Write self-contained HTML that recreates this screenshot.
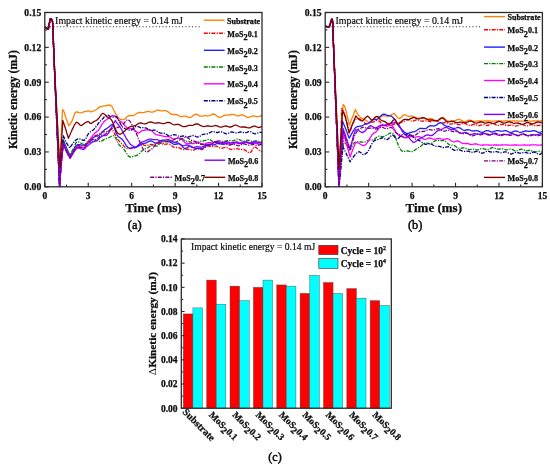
<!DOCTYPE html><html><head><meta charset="utf-8"><style>html,body{margin:0;padding:0;background:#fff;overflow:hidden}svg{display:block;filter:blur(0.3px)}text{font-family:"Liberation Serif", serif;stroke:#000;stroke-width:0.18px}text[font-weight=bold]{stroke:#000;stroke-width:0.25px}</style></head><body>
<svg width="550" height="468" viewBox="0 0 550 468">
<rect width="550" height="468" fill="#fff"/>
<defs><clipPath id="clipa"><rect x="44.8" y="12.5" width="217.2" height="174.3"/></clipPath><clipPath id="clipb"><rect x="325.2" y="12.5" width="217.2" height="174.3"/></clipPath></defs>
<g clip-path="url(#clipa)">
<path d="M44.8 27.1 45.8 27.7 47.3 28.6 48.3 29.2 48.5 28.2 48.7 27.1 48.9 26.1 49.1 25.0 49.3 23.9 49.5 22.8 49.7 21.7 49.9 20.7 50.1 19.6 50.3 18.6 50.9 18.8 51.6 19.2 52.3 20.6 52.5 21.7 52.6 22.9 52.7 23.9 52.8 25.0 52.9 26.1 52.9 27.1 53.0 28.2 53.0 29.2 53.1 30.3 53.1 31.3 53.1 32.4 53.2 33.4 53.2 34.5 53.2 35.6 53.2 36.6 53.3 37.7 53.3 38.7 53.3 39.8 53.3 40.8 53.4 41.9 53.4 42.9 53.4 44.0 53.5 45.0 53.5 46.0 53.5 47.0 53.6 48.0 53.6 49.0 53.7 50.0 53.7 51.0 53.8 52.0 53.8 53.0 53.8 54.0 53.9 55.0 53.9 56.0 54.0 57.0 54.0 58.0 54.1 59.0 54.1 60.0 54.2 61.0 54.2 62.1 54.3 63.1 54.3 64.1 54.4 65.1 54.4 66.2 54.5 67.2 54.5 68.2 54.6 69.2 54.6 70.3 54.7 71.3 54.7 72.3 54.8 73.3 54.8 74.4 54.9 75.4 55.0 76.4 55.0 77.4 55.1 78.5 55.1 79.5 55.2 80.5 55.2 81.5 55.3 82.6 55.3 83.6 55.4 84.6 55.4 85.6 55.5 86.7 55.5 87.7 55.6 88.7 55.6 89.7 55.7 90.8 55.8 91.8 55.8 92.8 55.9 93.8 55.9 94.8 56.0 95.9 56.0 96.9 56.1 97.9 56.1 98.9 56.2 99.9 56.2 100.9 56.3 101.9 56.4 102.9 56.4 104.0 56.5 105.0 56.5 106.0 56.6 107.0 56.6 108.0 56.7 109.0 56.7 110.0 56.8 111.0 56.8 112.1 56.9 113.1 57.0 114.1 57.0 115.1 57.1 116.1 57.1 117.1 57.2 118.1 57.2 119.1 57.3 120.2 57.3 121.2 57.4 122.2 57.4 123.2 57.5 124.2 57.5 125.2 57.6 126.2 57.7 127.2 57.7 128.3 57.8 129.3 57.8 130.3 57.9 131.3 57.9 132.3 58.0 133.3 58.0 134.3 58.1 135.3 58.1 136.4 58.2 137.4 58.3 138.4 58.3 139.4 58.4 140.4 58.4 141.5 58.5 142.5 58.5 143.5 58.6 144.5 58.6 145.6 58.7 146.6 58.8 147.6 58.8 148.6 58.9 149.6 58.9 150.7 59.0 151.7 59.0 152.7 59.1 153.7 59.1 154.7 59.2 155.8 59.2 156.8 59.3 157.8 59.4 158.8 59.4 159.9 59.5 160.9 59.5 161.9 59.6 162.9 59.6 163.9 59.7 165.0 59.7 166.0 59.8 167.0 59.8 165.9 59.9 164.9 59.9 163.8 60.0 162.8 60.0 161.7 60.1 160.7 60.1 159.6 60.2 158.6 60.2 157.5 60.3 156.4 60.4 155.4 60.4 154.3 60.5 153.3 60.5 152.2 60.6 151.2 60.6 150.1 60.6 149.1 60.7 148.1 60.7 147.1 60.8 146.1 60.8 145.1 60.9 144.1 60.9 143.0 61.0 142.0 61.0 141.0 61.1 140.0 61.1 139.0 61.2 138.0 61.2 137.0 61.3 136.0 61.3 135.0 61.4 134.0 61.4 132.9 61.5 131.9 61.5 130.9 61.6 129.9 61.6 128.9 61.7 127.9 61.7 126.9 61.7 125.8 61.8 124.8 61.8 123.7 61.9 122.7 61.9 121.6 62.0 120.6 62.0 119.5 62.1 118.4 62.1 117.4 62.2 116.3 62.2 115.3 62.3 114.2 62.3 113.2 62.4 112.1 62.5 111.1 62.5 110.0 62.8 110.0 63.2 110.0 63.7 110.8 64.0 111.8 64.4 112.7 64.8 114.0 65.2 115.3 65.6 116.7 66.0 118.0 66.3 118.9 66.7 119.9 67.0 120.8 67.4 121.8 67.7 122.8 68.1 123.8 68.4 124.8 68.8 125.8 69.7 124.6 70.3 123.7 70.9 122.8 71.6 121.7 72.2 120.6 72.6 119.6 72.9 118.6 73.3 117.7 73.6 116.6 74.0 115.5 74.3 114.4 75.0 113.2 75.6 112.1 77.1 111.8 78.9 112.6 80.8 112.9 81.9 112.5 83.1 112.1 84.3 111.7 85.6 111.5 86.6 111.3 87.6 110.9 88.8 110.9 89.7 111.5 90.6 111.8 91.9 111.5 93.3 111.1 94.8 110.5 96.5 109.5 98.3 108.1 100.0 106.9 101.6 106.3 103.1 106.1 104.5 105.9 105.7 105.8 106.8 105.5 108.0 105.3 109.3 105.0 110.6 105.2 112.0 106.6 112.8 108.2 113.6 109.7 114.2 111.0 114.8 112.1 115.4 113.2 115.9 114.1 116.5 114.9 117.0 115.7 117.6 116.5 118.1 117.3 119.1 118.5 120.5 119.4 121.6 119.6 122.7 119.8 124.1 119.3 125.4 118.3 126.7 117.1 128.0 116.1 129.2 115.6 130.4 115.5 131.5 115.7 132.7 115.7 133.8 115.5 135.0 114.8 136.1 114.0 137.3 113.2 138.4 112.7 139.6 112.5 140.7 112.5 141.9 112.7 143.2 112.7 144.4 112.4 145.7 111.9 147.0 111.5 148.2 111.4 149.4 111.6 150.4 111.9 151.4 112.1 153.2 112.0 155.0 111.1 156.7 110.2 158.4 110.1 160.0 110.6 161.3 110.9 162.4 110.9 164.0 110.7 165.1 110.7 166.2 110.8 167.1 111.1 168.0 111.7 168.9 112.4 170.2 113.4 171.5 114.3 172.7 114.5 173.9 114.5 175.2 114.4 176.4 114.5 177.7 115.1 179.0 115.7 180.0 116.3 180.9 116.6 181.9 116.6 182.9 116.4 184.0 116.2 185.0 116.2 186.4 116.4 187.9 117.1 189.2 117.4 190.5 117.5 191.7 116.8 193.0 115.7 194.2 114.8 195.4 114.2 196.6 114.3 197.8 114.8 199.1 115.6 200.3 116.1 201.6 116.2 202.9 116.1 204.4 115.7 205.8 115.7 206.8 115.8 207.9 115.8 208.9 115.7 209.9 115.5 210.9 115.0 211.9 114.3 213.3 114.0 214.8 114.3 215.7 115.0 216.6 115.8 217.6 116.6 218.6 117.2 219.5 117.4 220.5 117.4 221.5 116.8 222.6 116.2 223.6 115.7 224.7 115.3 225.7 115.2 226.8 115.2 227.9 115.2 228.9 115.1 230.0 114.8 231.1 114.5 232.1 114.3 233.2 114.3 234.3 114.6 235.3 115.1 236.4 115.6 237.5 115.9 238.6 115.8 239.7 115.5 240.8 115.2 241.9 114.9 243.0 115.0 244.2 115.5 245.3 116.2 246.4 117.0 247.6 117.3 248.8 117.3 250.0 116.9 251.1 116.4 252.2 116.1 253.2 116.0 254.3 116.2 255.4 116.4 256.6 116.6 257.7 116.6 258.8 116.4 259.9 116.1 260.9 116.0 262.0 116.0" fill="none" stroke="#FF8000" stroke-width="1.3" stroke-linejoin="round"/>
<path d="M44.8 27.1 45.8 27.7 47.3 28.6 48.3 29.2 48.5 28.2 48.7 27.1 48.9 26.1 49.1 25.0 49.3 23.9 49.5 22.8 49.7 21.7 49.9 20.7 50.1 19.6 50.3 18.6 50.9 18.8 51.6 19.2 52.3 20.6 52.5 21.7 52.6 22.9 52.7 23.9 52.8 25.0 52.9 26.1 52.9 27.1 53.0 28.2 53.0 29.2 53.1 30.3 53.1 31.3 53.1 32.5 53.2 33.6 53.2 34.8 53.3 35.9 53.3 37.0 53.3 38.1 53.3 39.2 53.4 40.3 53.4 41.4 53.4 42.5 53.5 43.5 53.5 44.6 53.5 45.6 53.6 46.6 53.6 47.6 53.7 48.7 53.7 49.7 53.7 50.7 53.8 51.8 53.8 52.8 53.9 53.8 53.9 54.9 53.9 55.9 54.0 56.9 54.0 57.9 54.1 59.0 54.1 60.0 54.1 61.0 54.2 62.0 54.2 63.1 54.3 64.1 54.3 65.1 54.4 66.1 54.4 67.1 54.4 68.1 54.5 69.2 54.5 70.2 54.6 71.2 54.6 72.2 54.7 73.2 54.7 74.2 54.8 75.3 54.8 76.3 54.8 77.3 54.9 78.3 54.9 79.3 55.0 80.4 55.0 81.4 55.1 82.4 55.1 83.4 55.1 84.4 55.2 85.4 55.2 86.5 55.3 87.5 55.3 88.5 55.4 89.5 55.4 90.5 55.5 91.6 55.5 92.6 55.5 93.6 55.6 94.6 55.6 95.6 55.7 96.6 55.7 97.7 55.8 98.7 55.8 99.7 55.8 100.7 55.9 101.7 55.9 102.7 56.0 103.7 56.0 104.8 56.1 105.8 56.1 106.8 56.2 107.8 56.2 108.8 56.2 109.8 56.3 110.8 56.3 111.8 56.4 112.9 56.4 113.9 56.5 114.9 56.5 115.9 56.6 116.9 56.6 117.9 56.6 118.9 56.7 119.9 56.7 120.9 56.8 122.0 56.8 123.0 56.9 124.0 56.9 125.0 56.9 126.0 57.0 127.0 57.0 128.0 57.1 129.0 57.1 130.1 57.2 131.1 57.2 132.1 57.3 133.1 57.3 134.1 57.3 135.1 57.4 136.1 57.4 137.1 57.5 138.1 57.5 139.2 57.6 140.2 57.6 141.2 57.7 142.2 57.7 143.2 57.7 144.2 57.8 145.2 57.8 146.2 57.9 147.3 57.9 148.3 58.0 149.3 58.0 150.3 58.1 151.3 58.1 152.3 58.1 153.3 58.2 154.3 58.2 155.4 58.3 156.4 58.3 157.4 58.4 158.4 58.4 159.4 58.4 160.4 58.5 161.4 58.5 162.5 58.6 163.5 58.6 164.5 58.7 165.5 58.7 166.5 58.8 167.5 58.8 168.5 58.8 169.6 58.9 170.6 58.9 171.6 59.0 172.6 59.0 173.6 59.1 174.6 59.1 175.6 59.2 176.7 59.2 177.7 59.2 178.7 59.3 179.7 59.3 180.7 59.4 181.7 59.4 182.7 59.5 183.8 59.5 184.8 59.6 185.8 59.6 186.8 59.7 185.7 59.7 184.6 59.8 183.4 59.9 182.3 59.9 181.2 60.0 180.2 60.1 179.2 60.1 178.2 60.2 177.2 60.2 176.2 60.3 175.2 60.4 174.2 60.4 173.2 60.5 172.1 60.6 171.1 60.6 170.1 60.7 169.1 60.8 168.1 60.9 167.0 60.9 166.0 61.0 165.0 61.1 163.9 61.2 162.9 61.3 161.8 61.4 160.8 61.5 159.7 61.6 158.7 61.7 157.6 61.8 156.6 61.9 155.5 62.0 154.4 62.1 153.4 62.2 152.3 62.3 151.2 62.4 150.1 62.6 149.1 62.7 148.0 62.8 147.0 62.9 146.0 63.0 145.0 63.1 144.0 63.2 143.0 63.3 142.0 63.7 143.1 64.1 144.1 64.5 145.1 64.9 146.1 65.3 147.1 65.7 148.1 66.1 149.0 66.5 150.0 67.2 151.3 67.8 152.7 68.5 153.9 69.2 155.2 69.6 156.1 70.1 157.0 70.6 156.0 71.1 155.1 71.6 154.2 72.1 153.3 72.6 152.4 73.3 151.2 74.0 150.0 74.5 149.1 75.0 148.1 76.0 146.5 77.4 145.5 78.5 145.6 79.5 145.7 80.8 146.1 82.0 146.4 83.1 146.2 84.2 146.1 84.9 145.3 85.5 144.7 86.0 143.7 86.5 142.7 87.2 141.9 88.0 141.0 88.8 140.4 89.7 139.7 90.5 138.8 91.5 137.8 92.5 137.0 93.5 136.3 94.5 135.8 95.5 135.5 96.5 135.3 97.5 134.9 98.5 134.3 99.5 133.6 100.4 132.9 101.4 132.3 102.4 131.8 103.8 131.7 105.1 131.8 106.2 131.8 107.4 131.4 108.3 130.9 109.3 130.2 111.0 129.4 112.3 129.9 113.4 131.4 113.9 132.5 114.5 133.6 115.2 134.9 115.8 136.2 116.6 137.6 117.3 138.8 118.0 139.9 118.8 140.8 119.6 141.6 120.4 142.3 121.2 143.1 122.1 144.1 123.0 145.0 123.9 146.1 124.8 147.0 125.8 147.9 126.7 148.4 127.7 148.8 128.9 148.7 130.0 148.7 131.4 148.3 132.8 148.4 133.8 148.2 134.8 148.0 135.8 147.4 136.8 146.7 137.9 145.8 138.9 144.8 139.9 144.3 140.9 144.1 142.0 144.2 143.0 144.7 144.0 145.2 145.0 145.5 146.5 145.6 147.9 145.1 149.1 144.7 150.3 144.4 151.5 144.5 152.6 144.7 153.8 144.9 155.0 144.8 156.4 144.2 157.8 143.6 158.8 143.2 159.8 143.1 160.8 143.3 161.9 143.8 162.9 144.2 164.0 144.3 165.1 144.4 166.3 144.2 167.4 143.8 168.6 143.9 169.8 144.3 171.0 145.1 172.1 146.0 173.3 146.9 174.5 147.4 175.7 147.5 176.9 147.5 178.1 147.5 179.3 147.9 180.5 148.4 181.7 149.1 182.7 149.5 183.8 149.7 184.9 149.7 186.3 149.3 187.6 149.2 188.8 149.3 190.0 149.6 191.2 150.0 192.4 150.2 193.7 150.1 194.9 149.6 196.2 149.1 197.4 148.9 198.7 149.0 199.9 149.4 201.1 149.6 202.4 149.5 203.6 148.8 204.9 147.8 206.1 146.9 207.4 146.2 208.5 146.2 209.7 146.3 210.8 146.6 211.9 146.7 212.9 146.6 214.0 146.4 215.0 146.2 216.2 146.2 217.3 146.5 218.5 147.1 219.6 147.8 220.7 148.2 221.8 148.3 222.9 148.0 224.0 147.6 225.1 147.3 226.3 147.3 227.5 147.8 228.8 148.5 230.0 149.2 231.2 149.5 232.5 149.4 233.7 149.1 234.8 148.8 235.8 148.6 236.9 148.7 237.9 149.0 239.0 149.2 240.0 149.4 241.2 149.5 242.3 149.5 243.5 149.5 244.7 149.9 245.8 150.6 247.0 151.5 248.5 152.5 249.9 152.9 250.8 152.1 251.7 151.2 252.3 149.8 252.9 148.5 254.4 146.9 255.7 147.4 257.0 148.2 258.0 149.2 258.9 150.1 259.9 150.7 261.0 151.2 262.0 151.4" fill="none" stroke="#FF0000" stroke-width="1.3" stroke-dasharray="4 1.2 1.2 1.2" stroke-linejoin="round"/>
<path d="M44.8 27.1 45.8 27.7 47.3 28.6 48.3 29.2 48.5 28.2 48.7 27.1 48.9 26.1 49.1 25.0 49.3 23.9 49.5 22.8 49.7 21.7 49.9 20.7 50.1 19.6 50.3 18.6 50.9 18.8 51.6 19.2 52.3 20.6 52.5 21.7 52.6 22.9 52.7 23.9 52.8 25.0 52.9 26.1 52.9 27.1 53.0 28.2 53.0 29.2 53.1 30.3 53.1 31.3 53.1 32.5 53.2 33.6 53.2 34.8 53.3 35.9 53.3 37.0 53.3 38.1 53.3 39.2 53.4 40.3 53.4 41.4 53.4 42.5 53.5 43.5 53.5 44.6 53.5 45.6 53.6 46.6 53.6 47.6 53.7 48.7 53.7 49.7 53.7 50.7 53.8 51.8 53.8 52.8 53.9 53.8 53.9 54.9 53.9 55.9 54.0 56.9 54.0 57.9 54.1 59.0 54.1 60.0 54.1 61.0 54.2 62.0 54.2 63.1 54.3 64.1 54.3 65.1 54.4 66.1 54.4 67.1 54.4 68.1 54.5 69.2 54.5 70.2 54.6 71.2 54.6 72.2 54.7 73.2 54.7 74.2 54.8 75.3 54.8 76.3 54.8 77.3 54.9 78.3 54.9 79.3 55.0 80.4 55.0 81.4 55.1 82.4 55.1 83.4 55.1 84.4 55.2 85.4 55.2 86.5 55.3 87.5 55.3 88.5 55.4 89.5 55.4 90.5 55.5 91.6 55.5 92.6 55.5 93.6 55.6 94.6 55.6 95.6 55.7 96.6 55.7 97.7 55.8 98.7 55.8 99.7 55.8 100.7 55.9 101.7 55.9 102.7 56.0 103.7 56.0 104.8 56.1 105.8 56.1 106.8 56.2 107.8 56.2 108.8 56.2 109.8 56.3 110.8 56.3 111.8 56.4 112.9 56.4 113.9 56.5 114.9 56.5 115.9 56.6 116.9 56.6 117.9 56.6 118.9 56.7 119.9 56.7 120.9 56.8 122.0 56.8 123.0 56.9 124.0 56.9 125.0 56.9 126.0 57.0 127.0 57.0 128.0 57.1 129.0 57.1 130.1 57.2 131.1 57.2 132.1 57.3 133.1 57.3 134.1 57.3 135.1 57.4 136.1 57.4 137.1 57.5 138.1 57.5 139.2 57.6 140.2 57.6 141.2 57.7 142.2 57.7 143.2 57.7 144.2 57.8 145.2 57.8 146.2 57.9 147.3 57.9 148.3 58.0 149.3 58.0 150.3 58.1 151.3 58.1 152.3 58.1 153.3 58.2 154.3 58.2 155.4 58.3 156.4 58.3 157.4 58.4 158.4 58.4 159.4 58.4 160.4 58.5 161.4 58.5 162.5 58.6 163.5 58.6 164.5 58.7 165.5 58.7 166.5 58.8 167.5 58.8 168.5 58.8 169.6 58.9 170.6 58.9 171.6 59.0 172.6 59.0 173.6 59.1 174.6 59.1 175.6 59.2 176.7 59.2 177.7 59.2 178.7 59.3 179.7 59.3 180.7 59.4 181.7 59.4 182.7 59.5 183.8 59.5 184.8 59.6 185.8 59.6 186.8 59.7 185.7 59.7 184.6 59.8 183.5 59.9 182.4 59.9 181.3 60.0 180.1 60.1 179.0 60.1 177.9 60.2 176.7 60.3 175.6 60.3 174.4 60.4 173.3 60.5 172.3 60.6 171.2 60.6 170.2 60.7 169.2 60.8 168.1 60.9 167.1 60.9 166.0 61.0 165.0 61.1 164.0 61.2 163.0 61.3 162.0 61.3 161.0 61.4 160.0 61.5 159.0 61.6 158.0 61.7 157.0 61.8 156.0 61.9 154.9 62.0 153.9 62.1 152.9 62.2 151.8 62.3 150.8 62.4 149.7 62.5 148.7 62.6 147.6 62.7 146.6 62.8 145.5 62.9 144.4 63.0 143.3 63.1 142.2 63.2 141.1 63.3 140.0 63.7 141.0 64.1 142.1 64.5 143.1 64.9 144.1 65.3 145.1 65.7 146.0 66.1 147.0 66.5 148.0 66.9 149.0 67.4 149.9 67.8 150.9 68.3 151.9 68.7 152.8 69.2 153.8 69.6 154.8 70.1 155.8 70.6 154.9 71.1 153.9 71.9 152.6 72.6 151.3 73.3 150.2 74.0 149.0 74.5 148.1 75.0 147.2 76.0 145.7 77.4 144.7 78.5 144.7 79.5 144.7 80.8 145.0 82.0 145.2 83.1 145.2 84.2 145.1 85.5 144.7 86.5 144.1 88.0 143.2 88.8 142.7 89.7 142.0 90.5 141.1 91.6 139.8 92.6 138.6 93.6 137.5 94.6 136.8 95.5 136.4 96.5 136.2 97.7 136.0 98.9 135.5 100.0 134.7 101.1 133.6 102.3 132.2 103.4 131.0 104.3 130.1 105.2 129.4 106.1 128.9 107.0 128.3 107.9 127.7 108.8 126.9 109.9 126.0 111.0 125.0 112.2 124.4 112.9 125.0 113.6 126.3 114.1 127.5 114.6 128.7 115.0 129.7 115.3 130.8 115.7 131.9 116.4 133.4 117.0 134.8 117.8 135.9 118.6 136.8 119.5 137.5 120.4 138.0 121.3 138.6 122.2 139.4 123.2 140.5 124.1 142.0 125.1 143.6 126.1 145.3 127.1 146.5 128.0 147.5 129.6 148.2 131.1 148.0 132.9 147.7 134.1 147.5 135.2 147.5 136.5 147.1 137.8 146.5 139.1 145.6 140.4 144.7 141.7 143.9 142.9 143.6 144.2 143.3 145.4 143.1 146.7 142.6 147.9 141.8 149.1 141.3 150.2 140.8 151.4 141.0 152.5 141.5 153.8 142.3 155.0 143.1 156.4 143.1 157.9 142.5 158.9 141.8 159.9 141.1 160.9 140.6 162.0 140.5 163.0 140.6 164.0 140.8 165.0 141.2 166.1 141.4 167.1 141.5 168.2 141.6 169.2 141.8 170.2 142.1 171.6 142.9 173.0 143.8 174.1 144.3 175.2 144.4 177.0 144.0 178.9 143.7 179.9 144.1 180.9 144.9 181.9 146.0 182.9 147.2 183.9 148.0 184.9 148.6 186.8 147.9 187.8 147.1 188.8 146.5 189.8 146.2 190.9 146.2 192.1 146.9 193.3 147.5 194.6 148.1 195.8 148.4 197.1 148.4 198.4 148.5 199.6 148.4 200.8 148.6 202.1 148.5 203.3 148.0 204.6 147.2 205.9 146.0 207.2 144.9 208.6 144.4 210.0 144.4 211.5 144.7 212.6 145.0 213.8 144.8 215.0 144.4 216.1 143.9 217.3 143.5 218.4 143.3 219.6 143.5 220.6 143.8 221.7 144.1 222.7 144.2 223.7 144.1 224.8 143.9 225.8 143.6 226.9 143.5 227.9 143.6 229.0 143.9 230.0 144.2 231.2 144.4 232.5 144.2 233.7 143.5 234.9 142.8 236.2 142.2 237.4 142.1 238.6 142.5 239.9 143.0 240.9 143.4 241.9 143.5 242.9 143.4 244.0 143.0 245.0 142.6 246.0 142.4 247.0 142.3 248.1 142.6 249.1 142.9 250.1 143.3 251.1 143.4 252.2 143.4 253.3 143.3 254.3 143.1 255.4 143.1 256.5 143.3 257.5 143.7 258.6 144.2 259.8 144.4 260.9 144.3 262.0 143.9" fill="none" stroke="#2020FF" stroke-width="1.3" stroke-linejoin="round"/>
<path d="M44.8 27.1 45.8 27.7 47.3 28.6 48.3 29.2 48.5 28.2 48.7 27.1 48.9 26.1 49.1 25.0 49.3 23.9 49.5 22.8 49.7 21.7 49.9 20.7 50.1 19.6 50.3 18.6 50.9 18.8 51.6 19.2 52.3 20.6 52.5 21.7 52.6 22.9 52.7 23.9 52.8 25.0 52.9 26.1 52.9 27.1 53.0 28.2 53.0 29.2 53.1 30.3 53.1 31.3 53.1 32.5 53.2 33.6 53.2 34.8 53.3 35.9 53.3 37.0 53.3 38.1 53.3 39.2 53.4 40.3 53.4 41.4 53.4 42.5 53.5 43.5 53.5 44.6 53.5 45.6 53.6 46.6 53.6 47.6 53.7 48.7 53.7 49.7 53.7 50.7 53.8 51.8 53.8 52.8 53.9 53.8 53.9 54.9 53.9 55.9 54.0 56.9 54.0 57.9 54.1 59.0 54.1 60.0 54.1 61.0 54.2 62.0 54.2 63.1 54.3 64.1 54.3 65.1 54.4 66.1 54.4 67.1 54.4 68.1 54.5 69.2 54.5 70.2 54.6 71.2 54.6 72.2 54.7 73.2 54.7 74.2 54.8 75.3 54.8 76.3 54.8 77.3 54.9 78.3 54.9 79.3 55.0 80.4 55.0 81.4 55.1 82.4 55.1 83.4 55.1 84.4 55.2 85.4 55.2 86.5 55.3 87.5 55.3 88.5 55.4 89.5 55.4 90.5 55.5 91.6 55.5 92.6 55.5 93.6 55.6 94.6 55.6 95.6 55.7 96.6 55.7 97.7 55.8 98.7 55.8 99.7 55.8 100.7 55.9 101.7 55.9 102.7 56.0 103.7 56.0 104.8 56.1 105.8 56.1 106.8 56.2 107.8 56.2 108.8 56.2 109.8 56.3 110.8 56.3 111.8 56.4 112.9 56.4 113.9 56.5 114.9 56.5 115.9 56.6 116.9 56.6 117.9 56.6 118.9 56.7 119.9 56.7 120.9 56.8 122.0 56.8 123.0 56.9 124.0 56.9 125.0 56.9 126.0 57.0 127.0 57.0 128.0 57.1 129.0 57.1 130.1 57.2 131.1 57.2 132.1 57.3 133.1 57.3 134.1 57.3 135.1 57.4 136.1 57.4 137.1 57.5 138.1 57.5 139.2 57.6 140.2 57.6 141.2 57.7 142.2 57.7 143.2 57.7 144.2 57.8 145.2 57.8 146.2 57.9 147.3 57.9 148.3 58.0 149.3 58.0 150.3 58.1 151.3 58.1 152.3 58.1 153.3 58.2 154.3 58.2 155.4 58.3 156.4 58.3 157.4 58.4 158.4 58.4 159.4 58.4 160.4 58.5 161.4 58.5 162.5 58.6 163.5 58.6 164.5 58.7 165.5 58.7 166.5 58.8 167.5 58.8 168.5 58.8 169.6 58.9 170.6 58.9 171.6 59.0 172.6 59.0 173.6 59.1 174.6 59.1 175.6 59.2 176.7 59.2 177.7 59.2 178.7 59.3 179.7 59.3 180.7 59.4 181.7 59.4 182.7 59.5 183.8 59.5 184.8 59.6 185.8 59.6 186.8 59.7 185.7 59.7 184.6 59.8 183.5 59.9 182.3 59.9 181.2 60.0 180.2 60.1 179.2 60.1 178.2 60.2 177.2 60.2 176.2 60.3 175.2 60.4 174.2 60.4 173.2 60.5 172.2 60.6 171.2 60.6 170.1 60.7 169.1 60.8 168.1 60.9 167.1 60.9 166.0 61.0 165.0 61.1 163.9 61.2 162.8 61.3 161.7 61.4 160.6 61.5 159.5 61.6 158.5 61.7 157.4 61.8 156.3 61.9 155.3 62.0 154.3 62.1 153.3 62.2 152.3 62.3 151.3 62.4 150.3 62.5 149.3 62.6 148.3 62.7 147.3 62.8 146.3 62.9 145.2 63.0 144.2 63.1 143.1 63.2 142.1 63.3 141.0 63.7 142.1 64.1 143.1 64.5 144.1 64.9 145.1 65.3 146.1 65.7 147.1 66.1 148.0 66.5 149.0 67.2 150.3 67.8 151.6 68.5 152.8 69.2 154.1 70.1 155.8 70.6 154.6 71.1 153.4 71.6 152.3 72.1 151.1 72.6 150.0 73.1 149.0 73.5 148.0 74.0 147.0 74.5 145.8 75.0 144.7 75.5 143.7 76.0 142.7 77.4 141.7 78.5 142.0 79.5 142.3 80.8 143.0 82.0 143.8 83.1 144.2 84.2 144.5 85.5 143.8 86.5 142.7 88.0 142.1 89.2 142.2 90.5 142.0 91.5 141.7 92.5 141.2 93.5 140.6 94.5 140.2 95.5 140.1 96.5 140.3 98.0 140.9 99.5 141.4 100.9 141.3 102.4 140.6 103.8 139.6 105.1 139.0 106.2 138.5 107.4 138.2 108.3 137.9 109.3 137.5 111.0 136.5 112.3 135.9 113.4 135.7 114.5 136.4 115.2 137.5 115.9 138.6 116.4 139.7 116.9 140.8 117.4 141.8 118.1 143.1 118.8 144.4 119.8 145.6 120.7 146.4 121.4 146.9 122.2 147.5 122.9 148.1 123.6 148.8 124.2 149.7 124.9 150.7 125.7 152.0 126.6 153.4 127.4 154.7 128.2 155.9 129.3 156.6 130.3 157.1 131.4 157.3 132.7 156.7 134.0 156.4 135.2 155.8 136.5 155.5 137.7 154.9 138.9 154.0 139.7 153.3 140.5 152.4 141.3 151.6 142.1 150.7 142.9 149.9 143.7 149.3 144.6 148.9 145.5 148.6 146.4 148.2 147.5 147.8 148.7 147.2 149.8 146.3 151.0 145.6 152.3 145.3 153.5 145.4 154.7 145.7 155.8 146.0 156.9 146.1 158.1 145.4 159.3 144.3 160.4 143.1 161.4 142.0 162.7 141.3 164.0 141.0 165.2 141.4 166.5 141.6 167.7 141.5 168.8 141.3 169.8 141.1 170.9 141.1 172.0 141.2 173.3 141.6 174.6 142.0 175.9 142.2 177.0 141.7 178.0 141.0 179.1 140.3 180.1 139.8 181.0 139.4 182.0 139.4 183.5 140.0 184.9 140.6 185.9 141.2 186.9 141.4 187.8 141.4 188.8 141.6 189.8 141.8 190.8 142.2 191.8 142.6 192.9 143.1 193.9 143.7 195.0 143.7 196.2 143.4 197.3 142.9 198.5 142.1 199.7 141.4 200.8 141.1 202.0 141.0 203.2 141.0 204.4 140.7 205.5 140.4 206.6 140.0 207.8 139.5 208.9 139.4 210.0 139.7 211.1 140.4 212.4 141.2 213.7 141.9 215.0 142.1 216.2 141.8 217.3 141.3 218.5 140.9 219.7 140.8 220.7 140.9 221.7 141.1 222.8 141.4 223.8 141.4 224.8 141.2 225.9 140.9 226.9 140.6 227.9 140.4 229.0 140.4 230.0 140.5 231.2 140.8 232.5 140.9 233.7 140.7 234.9 140.1 236.2 139.5 237.4 139.2 238.6 139.3 239.9 139.9 240.9 140.5 241.9 141.0 242.9 141.2 244.0 141.1 245.0 140.8 246.0 140.5 247.0 140.2 248.1 140.2 249.1 140.4 250.1 140.8 251.1 141.2 252.2 141.4 253.3 141.4 254.3 141.2 255.4 141.0 256.5 140.9 257.5 141.0 258.6 141.3 259.8 141.6 260.9 141.8 262.0 141.7" fill="none" stroke="#008000" stroke-width="1.3" stroke-dasharray="4 1.2 1.2 1.2" stroke-linejoin="round"/>
<path d="M44.8 27.1 45.8 27.7 47.3 28.6 48.3 29.2 48.5 28.2 48.7 27.1 48.9 26.1 49.1 25.0 49.3 23.9 49.5 22.8 49.7 21.7 49.9 20.7 50.1 19.6 50.3 18.6 50.9 18.8 51.6 19.2 52.3 20.6 52.5 21.7 52.6 22.9 52.7 23.9 52.8 25.0 52.9 26.1 52.9 27.1 53.0 28.2 53.0 29.2 53.1 30.3 53.1 31.3 53.1 32.5 53.2 33.6 53.2 34.8 53.3 35.9 53.3 37.0 53.3 38.1 53.3 39.2 53.4 40.3 53.4 41.4 53.4 42.5 53.5 43.5 53.5 44.6 53.5 45.6 53.6 46.6 53.6 47.6 53.7 48.7 53.7 49.7 53.7 50.7 53.8 51.8 53.8 52.8 53.9 53.8 53.9 54.9 53.9 55.9 54.0 56.9 54.0 57.9 54.1 59.0 54.1 60.0 54.1 61.0 54.2 62.0 54.2 63.1 54.3 64.1 54.3 65.1 54.4 66.1 54.4 67.1 54.4 68.1 54.5 69.2 54.5 70.2 54.6 71.2 54.6 72.2 54.7 73.2 54.7 74.2 54.8 75.3 54.8 76.3 54.8 77.3 54.9 78.3 54.9 79.3 55.0 80.4 55.0 81.4 55.1 82.4 55.1 83.4 55.1 84.4 55.2 85.4 55.2 86.5 55.3 87.5 55.3 88.5 55.4 89.5 55.4 90.5 55.5 91.6 55.5 92.6 55.5 93.6 55.6 94.6 55.6 95.6 55.7 96.6 55.7 97.7 55.8 98.7 55.8 99.7 55.8 100.7 55.9 101.7 55.9 102.7 56.0 103.7 56.0 104.8 56.1 105.8 56.1 106.8 56.2 107.8 56.2 108.8 56.2 109.8 56.3 110.8 56.3 111.8 56.4 112.9 56.4 113.9 56.5 114.9 56.5 115.9 56.6 116.9 56.6 117.9 56.6 118.9 56.7 119.9 56.7 120.9 56.8 122.0 56.8 123.0 56.9 124.0 56.9 125.0 56.9 126.0 57.0 127.0 57.0 128.0 57.1 129.0 57.1 130.1 57.2 131.1 57.2 132.1 57.3 133.1 57.3 134.1 57.3 135.1 57.4 136.1 57.4 137.1 57.5 138.1 57.5 139.2 57.6 140.2 57.6 141.2 57.7 142.2 57.7 143.2 57.7 144.2 57.8 145.2 57.8 146.2 57.9 147.3 57.9 148.3 58.0 149.3 58.0 150.3 58.1 151.3 58.1 152.3 58.1 153.3 58.2 154.3 58.2 155.4 58.3 156.4 58.3 157.4 58.4 158.4 58.4 159.4 58.4 160.4 58.5 161.4 58.5 162.5 58.6 163.5 58.6 164.5 58.7 165.5 58.7 166.5 58.8 167.5 58.8 168.5 58.8 169.6 58.9 170.6 58.9 171.6 59.0 172.6 59.0 173.6 59.1 174.6 59.1 175.6 59.2 176.7 59.2 177.7 59.2 178.7 59.3 179.7 59.3 180.7 59.4 181.7 59.4 182.7 59.5 183.8 59.5 184.8 59.6 185.8 59.6 186.8 59.7 185.6 59.8 184.3 59.8 183.1 59.9 181.8 60.0 180.8 60.1 179.8 60.1 178.7 60.2 177.7 60.3 176.7 60.3 175.7 60.4 174.6 60.5 173.6 60.6 172.5 60.7 171.4 60.7 170.3 60.8 169.2 60.9 168.1 61.0 167.0 61.1 165.9 61.2 164.9 61.3 163.8 61.4 162.7 61.5 161.6 61.6 160.6 61.7 159.5 61.8 158.4 61.9 157.4 62.0 156.4 62.1 155.4 62.2 154.4 62.3 153.4 62.4 152.4 62.5 151.4 62.6 150.4 62.7 149.4 62.8 148.3 62.9 147.3 63.0 146.2 63.1 145.1 63.2 144.1 63.3 143.0 63.7 144.1 64.1 145.1 64.5 146.1 64.9 147.1 65.3 148.1 65.7 149.1 66.1 150.0 66.5 151.0 66.9 151.9 67.4 152.8 67.8 153.8 68.5 155.1 69.2 156.4 69.6 157.4 70.1 158.3 70.6 157.3 71.1 156.3 71.6 155.4 72.1 154.4 72.6 153.5 73.3 152.2 74.0 151.0 74.5 150.1 75.0 149.1 76.0 147.5 77.4 146.6 78.5 146.8 79.5 146.9 80.8 147.4 82.0 147.8 83.1 147.8 84.2 147.8 85.6 146.6 86.1 145.7 86.6 144.8 87.3 143.8 88.0 142.7 88.7 141.8 89.4 140.7 90.1 139.6 91.0 138.2 91.8 136.8 92.7 135.5 93.3 134.6 94.0 133.9 94.6 133.3 95.3 132.8 96.0 132.2 96.7 131.7 97.4 131.1 98.1 130.5 98.8 129.6 99.5 128.6 100.2 127.4 100.9 126.2 101.5 125.1 102.1 124.1 102.8 123.2 103.4 122.3 104.4 121.3 105.3 120.5 106.1 120.0 106.9 119.5 108.5 118.3 109.4 117.6 110.3 116.9 112.0 115.7 113.6 115.6 114.9 116.1 115.9 117.0 117.0 118.0 118.0 119.2 118.5 119.9 119.0 120.5 119.8 121.0 120.5 121.6 121.6 122.1 122.7 123.1 123.6 124.0 124.4 125.0 125.3 126.1 126.2 127.1 127.1 127.8 128.0 128.3 128.9 128.5 129.9 128.6 130.8 128.7 132.2 129.0 133.6 129.8 134.8 130.6 135.9 131.3 137.2 132.2 137.9 133.0 138.9 133.0 139.8 132.3 140.6 131.7 141.7 130.9 142.7 130.4 143.8 130.3 144.9 130.0 146.1 130.1 147.3 129.8 148.6 129.7 149.8 129.8 151.1 130.3 152.4 131.4 153.7 132.7 155.1 133.9 155.9 134.5 156.8 134.8 157.7 135.0 158.9 135.2 160.0 135.4 161.4 135.7 162.3 135.8 164.0 136.3 165.0 136.6 166.1 136.7 167.1 136.7 168.4 136.7 169.7 137.0 171.0 137.7 172.2 138.4 173.3 138.9 174.5 139.1 175.9 138.7 177.2 138.1 178.5 137.8 179.7 137.9 180.8 138.6 181.9 139.4 182.9 140.6 183.9 141.6 184.9 142.5 185.8 143.1 186.9 143.3 187.9 143.6 189.1 143.4 190.3 143.6 191.7 143.6 193.0 143.5 194.2 143.2 195.4 142.7 196.5 142.4 197.6 142.3 198.6 142.4 199.6 142.8 201.4 143.6 202.8 144.2 204.1 144.4 205.9 143.7 207.1 142.9 208.4 142.6 209.4 142.6 210.4 142.7 211.4 142.8 212.6 142.8 213.8 142.4 215.0 141.8 216.1 141.4 217.3 141.2 218.4 141.3 219.6 141.7 220.6 142.1 221.7 142.4 222.7 142.4 223.7 142.4 224.8 142.3 225.8 142.2 226.9 142.4 227.9 142.9 229.0 143.4 230.0 143.9 231.2 144.0 232.5 143.6 233.7 142.9 234.9 142.3 236.2 141.9 237.4 142.0 238.6 142.5 239.9 143.0 240.9 143.1 241.9 143.0 242.9 142.7 244.0 142.3 245.0 141.9 246.0 141.8 247.0 141.9 248.1 142.1 249.1 142.4 250.1 142.6 251.1 142.6 252.2 142.5 253.3 142.3 254.3 142.2 255.4 142.5 256.5 142.9 257.5 143.4 258.6 143.9 259.8 144.1 260.9 143.8 262.0 143.3" fill="none" stroke="#FF00FF" stroke-width="1.3" stroke-linejoin="round"/>
<path d="M44.8 27.1 45.8 27.7 47.3 28.6 48.3 29.2 48.5 28.2 48.7 27.1 48.9 26.1 49.1 25.0 49.3 23.9 49.5 22.8 49.7 21.7 49.9 20.7 50.1 19.6 50.3 18.6 50.9 18.8 51.6 19.2 52.3 20.6 52.5 21.7 52.6 22.9 52.7 23.9 52.8 25.0 52.9 26.1 52.9 27.1 53.0 28.2 53.0 29.2 53.1 30.3 53.1 31.3 53.1 32.5 53.2 33.6 53.2 34.8 53.3 35.9 53.3 37.0 53.3 38.1 53.3 39.2 53.4 40.3 53.4 41.4 53.4 42.5 53.5 43.5 53.5 44.6 53.5 45.6 53.6 46.6 53.6 47.6 53.7 48.7 53.7 49.7 53.7 50.7 53.8 51.8 53.8 52.8 53.9 53.8 53.9 54.9 53.9 55.9 54.0 56.9 54.0 57.9 54.1 59.0 54.1 60.0 54.1 61.0 54.2 62.0 54.2 63.1 54.3 64.1 54.3 65.1 54.4 66.1 54.4 67.1 54.4 68.1 54.5 69.2 54.5 70.2 54.6 71.2 54.6 72.2 54.7 73.2 54.7 74.2 54.8 75.3 54.8 76.3 54.8 77.3 54.9 78.3 54.9 79.3 55.0 80.4 55.0 81.4 55.1 82.4 55.1 83.4 55.1 84.4 55.2 85.4 55.2 86.5 55.3 87.5 55.3 88.5 55.4 89.5 55.4 90.5 55.5 91.6 55.5 92.6 55.5 93.6 55.6 94.6 55.6 95.6 55.7 96.6 55.7 97.7 55.8 98.7 55.8 99.7 55.8 100.7 55.9 101.7 55.9 102.7 56.0 103.7 56.0 104.8 56.1 105.8 56.1 106.8 56.2 107.8 56.2 108.8 56.2 109.8 56.3 110.8 56.3 111.8 56.4 112.9 56.4 113.9 56.5 114.9 56.5 115.9 56.6 116.9 56.6 117.9 56.6 118.9 56.7 119.9 56.7 120.9 56.8 122.0 56.8 123.0 56.9 124.0 56.9 125.0 56.9 126.0 57.0 127.0 57.0 128.0 57.1 129.0 57.1 130.1 57.2 131.1 57.2 132.1 57.3 133.1 57.3 134.1 57.3 135.1 57.4 136.1 57.4 137.1 57.5 138.1 57.5 139.2 57.6 140.2 57.6 141.2 57.7 142.2 57.7 143.2 57.7 144.2 57.8 145.2 57.8 146.2 57.9 147.3 57.9 148.3 58.0 149.3 58.0 150.3 58.1 151.3 58.1 152.3 58.1 153.3 58.2 154.3 58.2 155.4 58.3 156.4 58.3 157.4 58.4 158.4 58.4 159.4 58.4 160.4 58.5 161.4 58.5 162.5 58.6 163.5 58.6 164.5 58.7 165.5 58.7 166.5 58.8 167.5 58.8 168.5 58.8 169.6 58.9 170.6 58.9 171.6 59.0 172.6 59.0 173.6 59.1 174.6 59.1 175.6 59.2 176.7 59.2 177.7 59.2 178.7 59.3 179.7 59.3 180.7 59.4 181.7 59.4 182.7 59.5 183.8 59.5 184.8 59.6 185.8 59.6 186.8 59.6 185.8 59.7 184.8 59.7 183.8 59.8 182.8 59.8 181.8 59.9 180.8 59.9 179.8 60.0 178.8 60.0 177.8 60.1 176.8 60.1 175.8 60.2 174.8 60.2 173.7 60.3 172.7 60.3 171.7 60.4 170.7 60.4 169.7 60.5 168.7 60.5 167.6 60.6 166.5 60.7 165.4 60.7 164.3 60.8 163.2 60.9 162.2 60.9 161.1 61.0 160.0 61.1 159.0 61.2 158.0 61.3 156.9 61.3 155.9 61.4 154.9 61.5 153.9 61.6 152.9 61.7 151.8 61.8 150.8 61.9 149.7 62.0 148.6 62.1 147.5 62.2 146.4 62.3 145.2 62.4 144.1 62.6 143.0 62.7 141.9 62.8 140.9 62.9 139.8 63.0 138.8 63.1 137.8 63.2 136.7 63.3 135.7 64.0 137.3 64.4 138.5 64.9 139.7 65.5 140.8 66.0 142.0 66.6 143.1 67.3 144.2 68.0 145.4 68.7 146.5 69.7 148.0 70.8 146.3 71.6 145.2 72.4 144.0 73.2 143.0 74.0 142.0 75.3 140.5 76.7 139.4 78.2 138.7 80.1 139.0 81.2 139.4 82.3 140.0 84.2 140.4 85.5 139.3 86.5 137.3 87.2 135.8 88.0 134.4 88.8 133.3 89.7 132.4 90.5 131.7 91.3 131.2 92.0 130.8 92.8 130.3 93.6 129.6 94.3 128.9 95.0 128.0 95.8 127.0 96.5 126.1 97.2 125.1 97.8 124.1 98.5 123.3 99.2 122.5 99.8 121.8 100.4 121.1 101.1 120.4 101.7 119.7 102.6 118.9 103.4 118.0 104.2 116.9 105.4 116.0 106.6 115.2 107.7 115.2 108.9 115.6 109.9 116.2 111.0 116.8 112.9 117.0 114.6 116.6 116.2 116.6 116.9 117.3 117.6 118.1 118.2 119.4 118.9 120.8 119.7 122.3 120.5 123.9 121.2 125.0 121.9 126.0 122.6 126.9 123.5 127.6 124.3 128.2 125.1 128.8 126.1 129.1 127.0 129.5 128.0 130.1 129.2 130.2 130.3 130.2 131.5 130.0 132.4 129.3 133.4 128.5 134.3 127.7 135.3 126.9 136.5 126.6 137.7 126.6 138.9 126.8 140.0 127.4 141.0 127.8 142.1 127.7 143.1 127.7 144.1 127.7 145.1 127.8 146.0 128.0 147.0 128.5 147.9 129.2 149.1 129.8 150.3 130.4 151.5 130.5 152.6 130.3 153.8 130.2 155.0 130.2 156.4 130.9 157.9 131.8 158.9 132.4 159.9 132.9 160.9 133.1 162.0 133.1 163.0 133.1 164.0 133.2 165.4 133.8 166.9 134.7 168.3 135.6 169.8 135.9 170.9 135.7 171.9 135.3 173.0 134.8 174.3 134.6 175.6 134.8 176.9 135.3 177.9 135.8 179.0 136.2 180.0 136.3 181.0 136.3 182.3 136.1 183.6 136.0 184.9 136.3 186.0 136.6 187.0 136.9 188.1 137.0 189.6 136.6 191.0 136.0 192.5 135.5 193.9 135.6 194.9 136.0 195.9 136.5 196.9 136.9 197.9 137.0 198.9 136.8 199.9 136.3 200.9 135.6 201.9 134.9 202.9 134.5 203.9 134.2 204.9 134.1 205.9 134.2 206.9 134.0 208.0 133.7 209.0 133.1 209.9 132.6 210.9 132.0 211.9 131.6 213.1 131.6 214.2 131.8 215.3 132.3 216.5 132.5 217.6 132.5 218.8 132.2 220.0 131.9 221.1 131.8 222.3 132.0 223.4 132.5 224.6 133.2 225.7 133.7 226.7 133.8 227.7 133.6 228.7 133.1 229.7 132.6 230.7 132.1 231.7 132.0 232.7 132.1 233.8 132.4 234.8 132.7 235.9 132.9 236.9 132.8 237.9 132.6 239.0 132.3 240.0 132.0 241.0 132.0 242.0 132.1 243.0 132.3 244.0 132.6 245.0 132.7 246.0 132.6 247.0 132.3 248.0 131.9 249.0 131.7 250.1 131.7 251.1 132.0 252.1 132.6 253.1 133.2 254.2 133.7 255.2 133.8 256.2 133.7 257.4 133.2 258.5 132.6 259.7 132.3 260.8 132.3 262.0 132.6" fill="none" stroke="#000080" stroke-width="1.3" stroke-dasharray="4 1.2 1.2 1.2" stroke-linejoin="round"/>
<path d="M44.8 27.1 45.8 27.7 47.3 28.6 48.3 29.2 48.5 28.2 48.7 27.1 48.9 26.1 49.1 25.0 49.3 23.9 49.5 22.8 49.7 21.7 49.9 20.7 50.1 19.6 50.3 18.6 50.9 18.8 51.6 19.2 52.3 20.6 52.5 21.7 52.6 22.9 52.7 23.9 52.8 25.0 52.9 26.1 52.9 27.1 53.0 28.2 53.0 29.2 53.1 30.3 53.1 31.3 53.1 32.5 53.2 33.6 53.2 34.8 53.3 35.9 53.3 37.0 53.3 38.1 53.3 39.2 53.4 40.3 53.4 41.4 53.4 42.5 53.5 43.5 53.5 44.6 53.5 45.6 53.6 46.6 53.6 47.6 53.7 48.7 53.7 49.7 53.7 50.7 53.8 51.8 53.8 52.8 53.9 53.8 53.9 54.9 53.9 55.9 54.0 56.9 54.0 57.9 54.1 59.0 54.1 60.0 54.1 61.0 54.2 62.0 54.2 63.1 54.3 64.1 54.3 65.1 54.4 66.1 54.4 67.1 54.4 68.1 54.5 69.2 54.5 70.2 54.6 71.2 54.6 72.2 54.7 73.2 54.7 74.2 54.8 75.3 54.8 76.3 54.8 77.3 54.9 78.3 54.9 79.3 55.0 80.4 55.0 81.4 55.1 82.4 55.1 83.4 55.1 84.4 55.2 85.4 55.2 86.5 55.3 87.5 55.3 88.5 55.4 89.5 55.4 90.5 55.5 91.6 55.5 92.6 55.5 93.6 55.6 94.6 55.6 95.6 55.7 96.6 55.7 97.7 55.8 98.7 55.8 99.7 55.8 100.7 55.9 101.7 55.9 102.7 56.0 103.7 56.0 104.8 56.1 105.8 56.1 106.8 56.2 107.8 56.2 108.8 56.2 109.8 56.3 110.8 56.3 111.8 56.4 112.9 56.4 113.9 56.5 114.9 56.5 115.9 56.6 116.9 56.6 117.9 56.6 118.9 56.7 119.9 56.7 120.9 56.8 122.0 56.8 123.0 56.9 124.0 56.9 125.0 56.9 126.0 57.0 127.0 57.0 128.0 57.1 129.0 57.1 130.1 57.2 131.1 57.2 132.1 57.3 133.1 57.3 134.1 57.3 135.1 57.4 136.1 57.4 137.1 57.5 138.1 57.5 139.2 57.6 140.2 57.6 141.2 57.7 142.2 57.7 143.2 57.7 144.2 57.8 145.2 57.8 146.2 57.9 147.3 57.9 148.3 58.0 149.3 58.0 150.3 58.1 151.3 58.1 152.3 58.1 153.3 58.2 154.3 58.2 155.4 58.3 156.4 58.3 157.4 58.4 158.4 58.4 159.4 58.4 160.4 58.5 161.4 58.5 162.5 58.6 163.5 58.6 164.5 58.7 165.5 58.7 166.5 58.8 167.5 58.8 168.5 58.8 169.6 58.9 170.6 58.9 171.6 59.0 172.6 59.0 173.6 59.1 174.6 59.1 175.6 59.2 176.7 59.2 177.7 59.2 178.7 59.3 179.7 59.3 180.7 59.4 181.7 59.4 182.7 59.5 183.8 59.5 184.8 59.6 185.8 59.6 186.8 59.7 185.8 59.7 184.8 59.8 183.8 59.9 182.8 59.9 181.8 60.0 180.8 60.1 179.7 60.1 178.7 60.2 177.7 60.3 176.6 60.3 175.6 60.4 174.6 60.5 173.5 60.6 172.4 60.7 171.3 60.7 170.2 60.8 169.2 60.9 168.1 61.0 167.0 61.1 166.0 61.2 164.9 61.3 163.9 61.4 162.9 61.5 161.8 61.6 160.8 61.7 159.8 61.8 158.7 61.9 157.6 62.0 156.6 62.1 155.5 62.2 154.4 62.3 153.3 62.4 152.2 62.6 151.2 62.7 150.1 62.8 149.1 62.9 148.1 63.0 147.0 63.1 146.0 63.2 145.0 63.3 144.0 63.7 145.1 64.1 146.1 64.5 147.1 64.9 148.2 65.3 149.2 65.7 150.1 66.1 151.1 66.5 152.0 67.2 153.2 67.8 154.5 68.5 155.6 69.2 156.7 70.1 158.3 70.6 157.4 71.1 156.6 71.9 155.4 72.6 154.2 73.3 153.1 74.0 152.0 74.6 151.2 75.1 150.3 76.2 148.9 77.4 148.0 78.8 148.0 80.3 148.6 81.6 149.0 82.5 149.3 83.3 149.5 84.2 149.2 85.2 148.2 85.8 147.4 86.3 146.7 87.2 146.1 88.0 145.4 89.2 144.5 90.5 143.4 91.5 142.7 92.5 142.1 93.5 141.7 94.5 141.4 95.5 141.2 96.5 140.8 97.5 140.2 98.5 139.3 99.5 138.3 100.5 137.3 101.5 136.5 102.5 136.0 103.4 135.7 104.2 135.6 105.1 135.6 106.1 135.3 107.1 134.8 107.8 133.9 108.6 133.0 109.4 131.6 110.2 130.2 110.8 128.9 111.5 127.6 112.1 126.4 112.6 125.5 113.1 124.6 113.6 123.7 114.0 122.9 114.5 122.1 114.9 121.3 115.4 120.5 116.2 121.8 116.8 122.7 117.4 123.5 118.1 124.5 118.8 125.3 119.3 126.1 119.9 126.8 120.4 127.6 121.0 128.5 121.6 129.6 122.2 130.6 122.8 131.7 123.3 132.9 123.9 134.0 124.4 135.0 124.9 135.9 125.4 136.8 126.1 138.0 126.8 139.1 127.4 140.0 128.0 140.8 128.5 141.6 129.0 142.3 129.8 143.7 131.0 144.8 132.8 146.0 133.9 146.6 135.1 146.9 136.2 146.6 137.4 146.0 138.6 144.8 139.8 143.7 140.6 142.9 141.4 142.4 142.2 141.9 143.1 141.7 144.0 141.4 144.9 141.0 145.9 140.7 146.9 140.2 147.9 139.6 149.0 139.3 150.0 139.1 151.1 139.1 152.5 139.5 153.9 139.6 155.1 139.7 156.2 139.6 157.2 139.7 158.2 140.0 160.0 140.8 161.2 140.8 162.2 140.2 164.0 140.1 165.1 140.1 166.1 139.9 167.2 139.7 168.2 139.6 169.2 139.8 170.2 140.2 171.2 140.8 172.4 141.6 173.7 142.2 175.0 142.5 176.1 142.6 177.2 142.8 178.3 143.2 179.3 143.8 180.4 144.5 181.4 145.2 182.6 145.6 183.7 145.6 184.9 145.4 186.0 145.0 187.1 144.9 188.1 145.1 189.2 145.7 190.4 146.5 191.6 147.2 192.7 147.6 193.9 147.6 194.9 147.2 195.9 146.9 197.0 146.7 198.0 146.8 199.0 146.8 200.0 147.0 201.0 147.2 202.2 146.9 203.4 146.3 204.6 145.6 205.9 145.0 207.1 144.6 208.3 144.5 209.5 144.5 210.7 144.2 211.8 143.9 212.9 143.3 213.9 142.5 215.0 141.9 216.0 141.6 217.1 141.7 218.1 142.1 219.2 142.6 220.2 142.9 221.2 143.0 222.3 142.8 223.3 142.4 224.3 142.0 225.3 141.7 226.3 141.6 227.3 141.8 228.3 142.1 229.3 142.5 230.3 142.7 231.3 142.8 232.4 142.6 233.5 142.5 234.6 142.4 235.7 142.6 236.7 142.9 237.8 143.4 238.9 143.6 240.0 143.6 241.0 143.2 242.1 142.7 243.1 142.2 244.2 141.8 245.2 141.8 246.3 142.2 247.3 142.6 248.4 143.1 249.4 143.3 250.4 143.1 251.4 142.8 252.4 142.3 253.4 141.8 254.4 141.6 255.4 141.7 256.4 141.9 257.5 142.3 258.6 142.5 259.8 142.6 260.9 142.4 262.0 142.2" fill="none" stroke="#8000FF" stroke-width="1.3" stroke-linejoin="round"/>
<path d="M44.8 27.1 45.8 27.7 47.3 28.6 48.3 29.2 48.5 28.2 48.7 27.1 48.9 26.1 49.1 25.0 49.3 23.9 49.5 22.8 49.7 21.7 49.9 20.7 50.1 19.6 50.3 18.6 50.9 18.8 51.6 19.2 52.3 20.6 52.5 21.7 52.6 22.9 52.7 23.9 52.8 25.0 52.9 26.1 52.9 27.1 53.0 28.2 53.0 29.2 53.1 30.3 53.1 31.3 53.1 32.5 53.2 33.6 53.2 34.8 53.3 35.9 53.3 37.0 53.3 38.1 53.3 39.2 53.4 40.3 53.4 41.4 53.4 42.5 53.5 43.5 53.5 44.6 53.5 45.6 53.6 46.6 53.6 47.6 53.7 48.7 53.7 49.7 53.7 50.7 53.8 51.8 53.8 52.8 53.9 53.8 53.9 54.9 53.9 55.9 54.0 56.9 54.0 57.9 54.1 59.0 54.1 60.0 54.1 61.0 54.2 62.0 54.2 63.1 54.3 64.1 54.3 65.1 54.4 66.1 54.4 67.1 54.4 68.1 54.5 69.2 54.5 70.2 54.6 71.2 54.6 72.2 54.7 73.2 54.7 74.2 54.8 75.3 54.8 76.3 54.8 77.3 54.9 78.3 54.9 79.3 55.0 80.4 55.0 81.4 55.1 82.4 55.1 83.4 55.1 84.4 55.2 85.4 55.2 86.5 55.3 87.5 55.3 88.5 55.4 89.5 55.4 90.5 55.5 91.6 55.5 92.6 55.5 93.6 55.6 94.6 55.6 95.6 55.7 96.6 55.7 97.7 55.8 98.7 55.8 99.7 55.8 100.7 55.9 101.7 55.9 102.7 56.0 103.7 56.0 104.8 56.1 105.8 56.1 106.8 56.2 107.8 56.2 108.8 56.2 109.8 56.3 110.8 56.3 111.8 56.4 112.9 56.4 113.9 56.5 114.9 56.5 115.9 56.6 116.9 56.6 117.9 56.6 118.9 56.7 119.9 56.7 120.9 56.8 122.0 56.8 123.0 56.9 124.0 56.9 125.0 56.9 126.0 57.0 127.0 57.0 128.0 57.1 129.0 57.1 130.1 57.2 131.1 57.2 132.1 57.3 133.1 57.3 134.1 57.3 135.1 57.4 136.1 57.4 137.1 57.5 138.1 57.5 139.2 57.6 140.2 57.6 141.2 57.7 142.2 57.7 143.2 57.7 144.2 57.8 145.2 57.8 146.2 57.9 147.3 57.9 148.3 58.0 149.3 58.0 150.3 58.1 151.3 58.1 152.3 58.1 153.3 58.2 154.3 58.2 155.4 58.3 156.4 58.3 157.4 58.4 158.4 58.4 159.4 58.4 160.4 58.5 161.4 58.5 162.5 58.6 163.5 58.6 164.5 58.7 165.5 58.7 166.5 58.8 167.5 58.8 168.5 58.8 169.6 58.9 170.6 58.9 171.6 59.0 172.6 59.0 173.6 59.1 174.6 59.1 175.6 59.2 176.7 59.2 177.7 59.2 178.7 59.3 179.7 59.3 180.7 59.4 181.7 59.4 182.7 59.5 183.8 59.5 184.8 59.6 185.8 59.6 186.8 59.7 185.7 59.7 184.7 59.8 183.6 59.9 182.6 59.9 181.5 60.0 180.4 60.1 179.3 60.1 178.2 60.2 177.1 60.3 176.0 60.3 175.0 60.4 173.9 60.5 172.7 60.6 171.6 60.7 170.5 60.7 169.4 60.8 168.2 60.9 167.1 61.0 166.0 61.1 165.0 61.2 163.9 61.3 162.9 61.4 161.8 61.5 160.8 61.6 159.7 61.7 158.7 61.8 157.6 61.9 156.6 62.0 155.5 62.1 154.4 62.2 153.3 62.3 152.3 62.4 151.2 62.6 150.1 62.7 149.0 62.8 148.0 62.9 147.0 63.0 146.0 63.1 145.0 63.2 144.0 63.3 143.0 63.7 144.1 64.1 145.1 64.5 146.1 64.9 147.1 65.3 148.1 65.7 149.1 66.1 150.0 66.5 151.0 67.2 152.3 67.8 153.5 68.5 154.7 69.2 155.9 70.1 157.5 70.6 156.6 71.1 155.7 71.9 154.5 72.6 153.2 73.3 152.1 74.0 151.0 75.0 149.3 76.0 147.9 77.4 147.0 78.5 147.0 79.5 147.0 80.8 147.3 82.0 147.6 83.1 147.5 84.2 147.5 85.4 146.3 85.8 145.3 86.2 144.3 87.1 143.2 88.0 142.0 89.1 141.0 90.3 140.2 91.4 139.7 92.5 139.6 93.5 139.7 94.6 139.7 95.7 139.6 96.8 139.0 97.9 138.2 98.9 137.2 100.0 136.3 100.8 135.6 101.7 135.1 102.5 134.8 103.3 134.7 104.1 134.5 105.0 134.2 105.8 133.8 106.6 133.2 107.4 132.4 108.2 131.5 109.2 130.6 110.1 129.7 111.0 129.1 111.9 128.5 112.9 128.5 113.9 128.4 114.9 128.2 116.2 128.0 117.4 127.6 118.5 127.1 119.6 126.8 120.5 126.3 121.3 125.9 122.0 125.3 122.6 124.7 123.3 124.2 123.9 123.5 125.0 122.0 126.1 120.4 127.5 119.7 128.5 120.1 129.6 120.8 130.4 122.0 131.2 123.3 132.0 124.7 132.6 125.9 133.2 127.1 133.8 128.2 134.4 129.3 134.8 130.2 135.2 131.2 135.6 132.0 136.1 132.9 136.5 133.7 136.9 134.7 137.3 135.7 137.6 136.7 138.0 137.7 138.4 138.7 138.8 139.6 139.2 140.6 139.6 141.5 140.0 142.5 140.4 143.5 140.9 144.6 141.4 145.7 141.9 146.8 142.5 147.8 143.1 148.9 143.8 149.9 144.5 150.8 145.5 151.4 146.4 152.0 148.0 151.7 149.3 150.5 150.1 150.0 150.9 149.5 151.9 148.9 152.9 148.0 153.6 147.1 154.3 146.1 155.1 145.0 156.0 143.6 156.9 142.4 157.9 141.9 158.6 142.3 160.0 142.8 161.4 143.2 162.8 143.2 163.9 142.9 165.1 142.3 166.3 141.6 167.5 141.1 168.8 140.9 170.0 140.8 171.0 140.8 172.0 140.6 172.9 140.2 173.9 139.6 175.0 139.0 176.0 138.5 177.0 138.3 178.1 138.3 179.4 138.7 180.6 139.0 181.9 138.8 183.0 138.5 184.0 137.9 185.1 137.4 186.6 137.4 188.0 138.0 189.0 138.7 189.9 139.5 190.9 140.1 191.9 140.6 192.9 140.9 194.0 141.1 195.0 141.3 196.0 141.7 197.0 142.3 198.0 142.9 198.9 143.5 199.9 144.1 201.2 144.4 202.5 144.3 203.7 144.2 204.9 144.3 206.2 144.5 207.4 145.1 208.5 145.4 209.7 145.4 210.8 144.8 211.9 143.9 212.9 143.2 214.0 142.5 215.0 142.2 216.1 142.3 217.2 142.8 218.3 143.4 219.5 143.8 220.5 144.1 221.6 144.0 222.6 143.9 223.7 143.8 224.7 143.8 225.8 144.1 226.8 144.5 227.9 144.9 228.9 145.0 230.0 145.0 231.2 144.7 232.5 144.4 233.7 144.3 234.9 144.7 236.2 145.2 237.4 145.7 238.6 145.9 239.9 145.5 240.9 144.9 241.9 144.4 242.9 143.9 244.0 143.8 245.0 144.1 246.0 144.5 247.0 144.9 248.1 145.2 249.1 145.2 250.1 145.1 251.1 144.8 252.2 144.6 253.3 144.5 254.3 144.7 255.4 145.0 256.5 145.3 257.5 145.4 258.6 145.2 259.8 144.9 260.9 144.5 262.0 144.4" fill="none" stroke="#800080" stroke-width="1.3" stroke-dasharray="4 1.2 1.2 1.2" stroke-linejoin="round"/>
<path d="M44.8 27.1 45.8 27.7 47.3 28.6 48.3 29.2 48.5 28.2 48.7 27.1 48.9 26.1 49.1 25.0 49.3 23.9 49.5 22.8 49.7 21.7 49.9 20.7 50.1 19.6 50.3 18.6 50.9 18.8 51.6 19.2 52.3 20.6 52.5 21.7 52.6 22.9 52.7 23.9 52.8 25.0 52.9 26.1 52.9 27.1 53.0 28.2 53.0 29.2 53.1 30.3 53.1 31.3 53.1 32.4 53.2 33.4 53.2 34.5 53.2 35.5 53.2 36.6 53.3 37.6 53.3 38.7 53.3 39.7 53.3 40.8 53.4 41.8 53.4 42.9 53.4 43.9 53.5 44.9 53.5 45.9 53.5 46.9 53.6 47.9 53.6 48.9 53.7 49.9 53.7 50.9 53.8 51.9 53.8 53.0 53.8 54.0 53.9 55.0 53.9 56.0 54.0 57.0 54.0 58.0 54.1 59.0 54.1 60.0 54.2 61.0 54.2 62.0 54.3 63.0 54.3 64.0 54.4 65.0 54.4 66.0 54.5 67.0 54.5 68.0 54.6 69.0 54.6 70.0 54.7 71.0 54.7 72.0 54.8 73.0 54.8 74.1 54.9 75.1 54.9 76.1 55.0 77.1 55.0 78.1 55.1 79.1 55.1 80.1 55.2 81.1 55.2 82.1 55.3 83.1 55.3 84.1 55.4 85.1 55.4 86.1 55.5 87.1 55.6 88.1 55.6 89.1 55.7 90.1 55.7 91.1 55.8 92.1 55.8 93.1 55.9 94.1 55.9 95.1 56.0 96.2 56.0 97.2 56.1 98.2 56.1 99.2 56.2 100.3 56.2 101.3 56.3 102.3 56.4 103.3 56.4 104.3 56.5 105.4 56.5 106.4 56.6 107.4 56.6 108.4 56.7 109.5 56.7 110.5 56.8 111.5 56.8 112.5 56.9 113.5 57.0 114.6 57.0 115.6 57.1 116.6 57.1 117.6 57.2 118.7 57.2 119.7 57.3 120.7 57.3 121.7 57.4 122.8 57.4 123.8 57.5 124.8 57.5 125.8 57.6 126.8 57.7 127.9 57.7 128.9 57.8 129.9 57.8 130.9 57.9 132.0 57.9 133.0 58.0 134.0 58.0 135.0 58.1 136.0 58.1 137.1 58.2 138.1 58.3 139.1 58.3 140.2 58.4 141.2 58.4 142.2 58.5 143.3 58.5 144.3 58.6 145.3 58.6 146.3 58.7 147.4 58.8 148.4 58.8 149.4 58.9 150.5 58.9 151.5 59.0 152.5 59.0 153.6 59.1 154.6 59.1 155.6 59.2 156.7 59.2 157.7 59.3 158.7 59.4 159.8 59.4 160.8 59.5 161.8 59.5 162.8 59.6 163.9 59.6 164.9 59.7 165.9 59.7 167.0 59.8 168.0 59.9 167.0 59.9 166.0 60.0 165.0 60.1 164.0 60.1 163.0 60.2 162.0 60.2 161.0 60.3 160.0 60.4 159.0 60.4 157.9 60.5 156.9 60.6 155.9 60.6 154.9 60.7 153.9 60.8 152.9 60.8 151.9 60.9 150.9 60.9 149.9 61.0 148.8 61.1 147.8 61.1 146.8 61.2 145.8 61.3 144.8 61.3 143.7 61.4 142.7 61.5 141.7 61.5 140.7 61.6 139.7 61.7 138.6 61.7 137.6 61.8 136.6 61.8 135.6 61.9 134.6 62.0 133.6 62.0 132.6 62.1 131.6 62.2 130.6 62.2 129.5 62.3 128.5 62.4 127.5 62.4 126.5 62.5 125.5 62.5 124.5 62.6 123.5 62.7 122.5 62.7 121.5 62.8 120.5 63.3 122.0 63.7 123.1 64.1 124.2 64.5 125.6 65.0 127.0 65.4 128.3 65.8 129.5 66.2 130.8 66.5 131.9 66.8 133.0 67.1 134.0 67.5 135.1 67.8 136.1 68.1 137.2 68.4 138.2 68.8 137.2 69.2 136.3 69.7 135.3 70.1 134.4 70.5 133.3 71.0 132.3 71.5 131.2 71.9 130.2 72.4 129.1 72.9 128.1 73.4 127.1 73.9 126.0 74.4 125.0 75.0 124.1 75.6 123.1 76.4 122.4 77.4 122.4 78.6 123.4 79.3 124.3 80.0 125.1 81.6 125.6 82.6 124.7 83.7 123.9 84.5 123.3 85.2 122.7 86.0 122.2 87.0 122.0 88.0 121.5 89.2 122.1 90.1 123.3 91.4 123.4 92.5 122.5 93.5 121.9 94.4 121.4 95.2 121.0 96.0 120.6 96.8 120.1 97.5 119.5 98.3 118.8 99.2 117.7 100.0 116.5 100.8 115.3 101.5 114.2 103.0 113.3 104.6 114.2 105.4 115.1 106.2 116.0 106.9 116.7 107.7 117.4 109.1 118.0 110.5 118.8 111.2 119.6 111.9 120.6 112.5 121.8 113.0 123.1 113.6 124.4 114.2 125.9 114.8 127.4 115.4 128.9 115.9 130.1 116.5 131.1 117.0 132.1 117.6 132.9 118.3 133.6 119.4 134.2 120.5 134.2 121.6 133.5 122.8 132.5 124.0 131.6 125.0 130.7 126.0 129.6 127.0 129.0 128.0 128.1 129.2 127.3 130.4 126.6 131.6 126.2 132.7 126.1 133.8 126.0 135.0 125.7 136.1 125.1 137.2 124.4 138.2 123.7 139.3 123.1 140.4 122.8 141.7 123.1 143.0 123.6 144.3 123.9 145.5 123.9 146.7 123.4 147.9 122.7 149.4 122.1 150.9 122.0 152.6 122.4 153.5 122.8 155.0 123.1 156.3 123.0 157.6 122.8 158.7 122.7 159.8 122.8 160.8 123.1 161.9 123.4 162.9 123.6 164.0 123.6 165.4 123.1 166.9 122.5 168.3 122.3 169.8 122.6 170.9 123.3 171.9 124.0 173.0 124.5 174.0 124.8 175.0 124.7 176.0 124.5 177.0 124.3 178.0 124.3 179.1 124.6 180.2 125.1 181.3 125.8 182.5 126.4 183.7 126.7 184.9 126.7 186.0 126.3 187.2 126.0 188.8 125.4 189.8 125.4 190.9 125.3 192.0 125.4 193.2 125.1 194.3 124.6 195.6 124.0 196.9 123.8 198.2 124.1 199.3 124.7 200.3 125.4 201.4 125.9 203.2 126.4 204.3 126.6 205.9 126.2 207.2 125.9 208.6 126.0 209.6 126.2 210.7 126.3 211.7 126.3 212.8 126.2 213.9 125.9 215.0 125.5 216.1 125.6 217.2 125.9 218.3 126.3 219.4 126.8 220.5 127.1 221.6 127.1 222.8 126.7 223.9 126.3 225.0 126.1 226.1 126.0 227.2 126.3 228.3 126.7 229.4 127.0 230.6 127.0 231.7 126.7 232.8 126.1 233.9 125.5 235.0 125.1 236.0 125.1 237.0 125.5 238.1 126.0 239.1 126.5 240.1 126.9 241.1 127.1 242.4 127.0 243.7 126.9 245.0 127.0 246.2 127.3 247.3 127.7 248.5 127.9 249.6 127.8 250.8 127.4 251.9 126.8 253.0 126.3 254.1 126.1 255.1 126.2 256.2 126.7 257.3 127.1 258.5 127.5 259.7 127.4 260.8 126.9 262.0 126.3" fill="none" stroke="#800000" stroke-width="1.3" stroke-linejoin="round"/>
</g>
<line x1="46.8" y1="26.7" x2="199.8" y2="26.7" stroke="#333" stroke-width="1.1" stroke-dasharray="1.1 2.2"/>
<text x="55.1" y="23.6" font-size="9.9" fill="#111">Impact kinetic energy = 0.14 mJ</text>
<rect x="44.8" y="12.5" width="217.2" height="174.3" fill="none" stroke="#2a2a2a" stroke-width="1.3"/>
<line x1="44.8" y1="186.8" x2="48.8" y2="186.8" stroke="#2a2a2a" stroke-width="1.1"/>
<text x="41.3" y="190.2" font-size="9.7" font-weight="bold" text-anchor="end" fill="#111">0.00</text>
<line x1="44.8" y1="169.37" x2="47" y2="169.37" stroke="#2a2a2a" stroke-width="1.1"/>
<line x1="44.8" y1="151.94" x2="48.8" y2="151.94" stroke="#2a2a2a" stroke-width="1.1"/>
<text x="41.3" y="155.34" font-size="9.7" font-weight="bold" text-anchor="end" fill="#111">0.03</text>
<line x1="44.8" y1="134.51" x2="47" y2="134.51" stroke="#2a2a2a" stroke-width="1.1"/>
<line x1="44.8" y1="117.08" x2="48.8" y2="117.08" stroke="#2a2a2a" stroke-width="1.1"/>
<text x="41.3" y="120.48" font-size="9.7" font-weight="bold" text-anchor="end" fill="#111">0.06</text>
<line x1="44.8" y1="99.65" x2="47" y2="99.65" stroke="#2a2a2a" stroke-width="1.1"/>
<line x1="44.8" y1="82.22" x2="48.8" y2="82.22" stroke="#2a2a2a" stroke-width="1.1"/>
<text x="41.3" y="85.62" font-size="9.7" font-weight="bold" text-anchor="end" fill="#111">0.09</text>
<line x1="44.8" y1="64.79" x2="47" y2="64.79" stroke="#2a2a2a" stroke-width="1.1"/>
<line x1="44.8" y1="47.36" x2="48.8" y2="47.36" stroke="#2a2a2a" stroke-width="1.1"/>
<text x="41.3" y="50.76" font-size="9.7" font-weight="bold" text-anchor="end" fill="#111">0.12</text>
<line x1="44.8" y1="29.93" x2="47" y2="29.93" stroke="#2a2a2a" stroke-width="1.1"/>
<line x1="44.8" y1="12.5" x2="48.8" y2="12.5" stroke="#2a2a2a" stroke-width="1.1"/>
<text x="41.3" y="15.9" font-size="9.7" font-weight="bold" text-anchor="end" fill="#111">0.15</text>
<line x1="44.8" y1="186.8" x2="44.8" y2="182.8" stroke="#2a2a2a" stroke-width="1.1"/>
<text x="44.8" y="198.8" font-size="9.5" font-weight="bold" text-anchor="middle" fill="#111">0</text>
<line x1="66.52" y1="186.8" x2="66.52" y2="184.6" stroke="#2a2a2a" stroke-width="1.1"/>
<line x1="88.24" y1="186.8" x2="88.24" y2="182.8" stroke="#2a2a2a" stroke-width="1.1"/>
<text x="88.24" y="198.8" font-size="9.5" font-weight="bold" text-anchor="middle" fill="#111">3</text>
<line x1="109.96" y1="186.8" x2="109.96" y2="184.6" stroke="#2a2a2a" stroke-width="1.1"/>
<line x1="131.68" y1="186.8" x2="131.68" y2="182.8" stroke="#2a2a2a" stroke-width="1.1"/>
<text x="131.68" y="198.8" font-size="9.5" font-weight="bold" text-anchor="middle" fill="#111">6</text>
<line x1="153.4" y1="186.8" x2="153.4" y2="184.6" stroke="#2a2a2a" stroke-width="1.1"/>
<line x1="175.12" y1="186.8" x2="175.12" y2="182.8" stroke="#2a2a2a" stroke-width="1.1"/>
<text x="175.12" y="198.8" font-size="9.5" font-weight="bold" text-anchor="middle" fill="#111">9</text>
<line x1="196.84" y1="186.8" x2="196.84" y2="184.6" stroke="#2a2a2a" stroke-width="1.1"/>
<line x1="218.56" y1="186.8" x2="218.56" y2="182.8" stroke="#2a2a2a" stroke-width="1.1"/>
<text x="218.56" y="198.8" font-size="9.5" font-weight="bold" text-anchor="middle" fill="#111">12</text>
<line x1="240.28" y1="186.8" x2="240.28" y2="184.6" stroke="#2a2a2a" stroke-width="1.1"/>
<line x1="262" y1="186.8" x2="262" y2="182.8" stroke="#2a2a2a" stroke-width="1.1"/>
<text x="262" y="198.8" font-size="9.5" font-weight="bold" text-anchor="middle" fill="#111">15</text>
<text x="153.4" y="212.2" font-size="13" font-weight="bold" text-anchor="middle" fill="#111">Time (ms)</text>
<text x="134.8" y="229.4" font-size="12.5" text-anchor="middle" fill="#111" style="stroke-width:0.45px">(a)</text>
<text transform="translate(16.9,99.65) rotate(-90)" font-size="11.65" font-weight="bold" text-anchor="middle" fill="#111">Kinetic energy (mJ)</text>
<line x1="203.8" y1="20.2" x2="224.6" y2="20.2" stroke="#FF8000" stroke-width="1.4"/>
<text x="226.9" y="23.7" font-size="8.1" font-weight="bold" fill="#111">Substrate</text>
<line x1="203.8" y1="33.3" x2="224.6" y2="33.3" stroke="#FF0000" stroke-width="1.4" stroke-dasharray="4 1.2 1.2 1.2"/>
<text x="227.3" y="36.8" font-size="8.1" font-weight="bold" fill="#111">MoS<tspan font-size="8.3" dy="3.3">2</tspan><tspan dy="-3.3">0.1</tspan></text>
<line x1="203.8" y1="50.3" x2="224.6" y2="50.3" stroke="#2020FF" stroke-width="1.4"/>
<text x="227.3" y="53.8" font-size="8.1" font-weight="bold" fill="#111">MoS<tspan font-size="8.3" dy="3.3">2</tspan><tspan dy="-3.3">0.2</tspan></text>
<line x1="203.8" y1="67" x2="224.6" y2="67" stroke="#008000" stroke-width="1.4" stroke-dasharray="4 1.2 1.2 1.2"/>
<text x="227.3" y="70.5" font-size="8.1" font-weight="bold" fill="#111">MoS<tspan font-size="8.3" dy="3.3">2</tspan><tspan dy="-3.3">0.3</tspan></text>
<line x1="203.8" y1="83.8" x2="224.6" y2="83.8" stroke="#FF00FF" stroke-width="1.4"/>
<text x="227.3" y="87.3" font-size="8.1" font-weight="bold" fill="#111">MoS<tspan font-size="8.3" dy="3.3">2</tspan><tspan dy="-3.3">0.4</tspan></text>
<line x1="203.8" y1="100.8" x2="224.6" y2="100.8" stroke="#000080" stroke-width="1.4" stroke-dasharray="4 1.2 1.2 1.2"/>
<text x="227.3" y="104.3" font-size="8.1" font-weight="bold" fill="#111">MoS<tspan font-size="8.3" dy="3.3">2</tspan><tspan dy="-3.3">0.5</tspan></text>
<line x1="204.5" y1="160.2" x2="225.2" y2="160.2" stroke="#8000FF" stroke-width="1.4"/>
<text x="227.9" y="163.7" font-size="8.1" font-weight="bold" fill="#111">MoS<tspan font-size="8.3" dy="3.3">2</tspan><tspan dy="-3.3">0.6</tspan></text>
<line x1="150.2" y1="177.3" x2="171.8" y2="177.3" stroke="#800080" stroke-width="1.4" stroke-dasharray="4 1.2 1.2 1.2"/>
<text x="174.6" y="180.8" font-size="8.1" font-weight="bold" fill="#111">MoS<tspan font-size="8.3" dy="3.3">2</tspan><tspan dy="-3.3">0.7</tspan></text>
<line x1="204.5" y1="177.3" x2="225.2" y2="177.3" stroke="#800000" stroke-width="1.4"/>
<text x="227.9" y="180.8" font-size="8.1" font-weight="bold" fill="#111">MoS<tspan font-size="8.3" dy="3.3">2</tspan><tspan dy="-3.3">0.8</tspan></text>
<g clip-path="url(#clipb)">
<path d="M325.5 26.0 326.4 26.5 327.8 27.1 329.0 26.8 329.5 25.8 330.0 24.7 330.3 23.7 330.6 22.8 331.0 21.8 331.3 20.7 331.6 19.6 331.9 19.2 332.2 19.0 332.4 20.2 332.6 21.5 332.7 22.7 332.7 23.9 332.8 25.1 332.8 26.1 332.8 27.2 332.9 28.2 332.9 29.3 332.9 30.4 332.9 31.4 333.0 32.4 333.0 33.5 333.1 34.5 333.1 35.6 333.1 36.6 333.2 37.6 333.2 38.7 333.3 39.7 333.3 40.7 333.4 41.8 333.4 42.8 333.4 43.9 333.5 44.9 333.5 45.9 333.6 47.0 333.6 48.0 333.6 49.0 333.7 50.0 333.7 51.0 333.8 52.0 333.8 53.0 333.9 54.0 333.9 55.0 334.0 56.0 334.0 57.1 334.1 58.1 334.1 59.1 334.1 60.1 334.2 61.1 334.2 62.1 334.3 63.1 334.3 64.1 334.4 65.1 334.4 66.1 334.5 67.1 334.5 68.1 334.6 69.1 334.6 70.1 334.6 71.1 334.7 72.1 334.7 73.2 334.8 74.2 334.8 75.2 334.9 76.2 334.9 77.2 335.0 78.2 335.0 79.2 335.0 80.2 335.1 81.2 335.1 82.2 335.2 83.2 335.2 84.2 335.3 85.2 335.3 86.2 335.4 87.2 335.4 88.3 335.5 89.3 335.5 90.3 335.6 91.3 335.6 92.3 335.6 93.3 335.7 94.3 335.7 95.3 335.8 96.3 335.8 97.3 335.9 98.4 335.9 99.4 336.0 100.4 336.0 101.4 336.1 102.4 336.1 103.4 336.1 104.4 336.2 105.4 336.2 106.4 336.3 107.5 336.3 108.5 336.4 109.5 336.4 110.5 336.5 111.5 336.5 112.5 336.6 113.5 336.6 114.5 336.7 115.5 336.7 116.6 336.7 117.6 336.8 118.6 336.8 119.6 336.9 120.6 336.9 121.6 337.0 122.6 337.0 123.6 337.1 124.6 337.1 125.6 337.2 126.7 337.2 127.7 337.3 128.7 337.3 129.7 337.3 130.7 337.4 131.7 337.4 132.7 337.5 133.7 337.5 134.7 337.6 135.7 337.6 136.8 337.7 137.8 337.7 138.8 337.8 139.8 337.8 140.8 337.9 141.8 337.9 142.8 337.9 143.8 338.0 144.8 338.0 145.8 338.1 146.8 338.1 147.8 338.2 148.9 338.2 149.9 338.3 150.9 338.3 151.9 338.4 152.9 338.4 153.9 338.4 154.9 338.5 155.9 338.5 156.9 338.6 157.9 338.6 158.9 338.7 159.9 338.7 161.0 338.8 162.0 338.8 163.0 338.9 164.0 338.9 165.0 339.0 166.0 339.0 167.0 339.1 166.0 339.1 164.9 339.2 163.9 339.3 162.9 339.3 161.9 339.4 160.8 339.5 159.8 339.5 158.8 339.6 157.7 339.7 156.7 339.7 155.7 339.8 154.7 339.9 153.6 339.9 152.6 340.0 151.6 340.1 150.5 340.1 149.5 340.2 148.5 340.3 147.5 340.3 146.4 340.4 145.4 340.5 144.4 340.5 143.4 340.6 142.4 340.7 141.4 340.7 140.3 340.8 139.3 340.9 138.3 340.9 137.3 341.0 136.3 341.1 135.2 341.2 134.2 341.2 133.2 341.3 132.2 341.4 131.2 341.4 130.1 341.5 129.1 341.6 128.1 341.6 127.1 341.7 126.1 341.8 125.1 341.8 124.0 341.9 123.0 342.0 122.0 342.0 121.0 342.1 119.9 342.2 118.9 342.2 117.9 342.3 116.8 342.4 115.8 342.4 114.8 342.5 113.8 342.6 112.7 342.6 111.7 342.7 110.7 342.8 109.6 342.8 108.6 342.9 107.6 343.0 106.6 343.0 105.5 343.1 104.5 343.6 104.9 344.3 105.7 344.8 106.8 345.3 108.0 345.6 109.1 345.9 110.2 346.1 111.2 346.4 112.3 346.7 113.4 346.9 114.4 347.1 115.4 347.4 116.4 347.6 117.3 347.8 118.3 348.0 119.3 348.3 120.3 348.5 121.3 348.7 122.3 348.9 123.3 349.2 124.3 349.4 125.3 349.8 124.1 350.3 123.0 350.7 121.8 351.1 120.6 351.5 119.5 351.9 118.5 352.4 117.4 352.8 116.3 353.2 115.3 353.6 114.2 354.0 113.0 354.4 111.8 354.9 110.7 355.3 109.5 355.8 110.5 356.2 111.4 356.7 112.3 357.2 113.2 357.6 114.1 358.5 115.2 359.3 116.4 360.3 117.2 361.3 118.1 362.4 118.7 363.6 119.2 364.6 119.7 365.7 120.2 366.6 120.8 367.5 121.6 369.3 122.5 371.0 122.1 371.8 121.0 372.7 120.0 373.5 118.7 374.4 117.6 375.4 117.0 376.4 116.6 377.7 117.0 379.1 117.0 380.1 116.9 381.1 116.5 382.1 116.1 383.6 115.7 385.0 115.9 386.4 116.1 387.8 116.4 389.1 116.1 390.4 115.5 391.4 114.8 392.4 114.2 393.4 113.6 393.8 113.5 394.5 113.9 395.2 114.8 396.0 115.7 396.9 116.9 397.8 117.9 398.8 118.2 399.7 118.5 401.4 117.0 402.2 116.0 403.1 115.2 404.0 114.9 405.0 114.8 406.1 115.5 407.2 115.9 408.4 116.3 409.6 116.3 411.0 116.1 412.4 116.2 413.5 116.5 414.6 117.0 415.7 117.7 416.9 118.1 418.2 118.2 419.4 118.1 420.6 117.8 421.7 117.8 422.9 118.0 424.0 118.3 425.0 118.7 426.1 118.9 427.1 119.0 428.1 118.8 429.1 118.6 430.5 118.4 431.9 118.8 433.2 119.6 434.6 120.4 435.9 120.9 437.1 120.9 438.2 120.4 439.3 119.9 441.0 118.7 442.3 117.7 443.8 117.9 444.7 118.7 445.6 119.5 446.6 120.3 447.6 120.9 448.7 121.1 449.8 121.4 450.9 121.2 452.0 121.2 453.2 121.0 454.4 120.7 455.3 120.5 456.3 120.1 457.3 119.6 458.5 119.4 459.7 119.5 460.9 120.0 461.9 120.6 463.0 121.2 464.0 121.6 465.0 121.7 466.3 121.2 467.5 120.6 468.8 120.1 470.0 120.1 471.2 120.4 472.3 120.9 473.5 121.2 474.6 121.3 475.8 121.2 476.8 121.0 477.9 120.8 479.0 120.8 480.1 120.9 481.2 121.0 482.3 121.1 483.4 121.1 484.5 121.0 485.6 121.0 486.7 121.0 487.8 120.9 488.9 121.0 490.0 121.0 491.1 121.1 492.1 121.2 493.2 121.2 494.2 121.1 495.3 121.1 496.3 121.0 497.4 120.9 498.5 120.9 499.5 120.9 500.6 121.0 501.6 121.0 502.7 121.1 503.8 121.0 504.8 121.0 505.9 120.9 507.0 120.9 508.0 120.9 509.1 120.9 510.1 121.0 511.2 121.0 512.3 121.0 513.4 121.0 514.5 120.9 515.6 120.9 516.7 120.9 517.8 121.0 518.9 121.1 520.0 121.1 521.0 121.2 522.0 121.2 523.0 121.1 524.0 121.1 525.0 121.0 526.0 120.9 527.0 120.9 528.0 120.9 529.0 121.0 530.1 121.1 531.1 121.1 532.1 121.1 533.2 121.0 534.2 121.0 535.2 120.9 536.3 120.9 537.3 120.9 538.4 121.0 539.6 121.0 540.7 121.0 541.9 121.0 543.0 120.9" fill="none" stroke="#FF8000" stroke-width="1.3" stroke-linejoin="round"/>
<path d="M325.5 26.0 326.4 26.5 327.8 27.1 329.0 26.8 329.5 25.8 330.0 24.7 330.3 23.7 330.6 22.8 331.0 21.8 331.3 20.7 331.6 19.6 331.9 19.2 332.2 19.0 332.4 20.2 332.6 21.5 332.7 22.9 332.8 24.4 332.8 25.5 332.8 26.6 332.9 27.7 332.9 28.8 332.9 29.9 333.0 30.9 333.0 31.9 333.1 32.9 333.1 34.0 333.1 35.0 333.2 36.0 333.2 37.0 333.2 38.0 333.3 39.0 333.3 40.0 333.3 41.0 333.4 42.0 333.4 43.0 333.5 44.0 333.5 45.0 333.5 46.0 333.6 47.0 333.6 48.0 333.6 49.0 333.7 50.0 333.7 51.0 333.8 52.0 333.8 53.0 333.8 54.0 333.9 55.0 333.9 56.0 334.0 57.0 334.0 58.0 334.0 59.0 334.1 60.0 334.1 61.0 334.1 62.0 334.2 63.0 334.2 64.0 334.3 65.0 334.3 66.0 334.3 67.0 334.4 68.0 334.4 69.0 334.5 70.0 334.5 71.0 334.5 72.0 334.6 73.1 334.6 74.1 334.7 75.1 334.7 76.1 334.7 77.1 334.8 78.1 334.8 79.1 334.8 80.1 334.9 81.1 334.9 82.1 335.0 83.1 335.0 84.1 335.0 85.1 335.1 86.1 335.1 87.1 335.2 88.1 335.2 89.1 335.2 90.1 335.3 91.1 335.3 92.1 335.4 93.1 335.4 94.1 335.4 95.1 335.5 96.1 335.5 97.2 335.5 98.2 335.6 99.2 335.6 100.2 335.7 101.2 335.7 102.2 335.7 103.2 335.8 104.2 335.8 105.2 335.9 106.2 335.9 107.3 335.9 108.3 336.0 109.3 336.0 110.3 336.1 111.3 336.1 112.3 336.1 113.3 336.2 114.3 336.2 115.3 336.3 116.3 336.3 117.4 336.3 118.4 336.4 119.4 336.4 120.4 336.5 121.4 336.5 122.4 336.5 123.4 336.6 124.4 336.6 125.4 336.7 126.4 336.7 127.5 336.7 128.5 336.8 129.5 336.8 130.5 336.8 131.5 336.9 132.5 336.9 133.5 337.0 134.5 337.0 135.5 337.0 136.6 337.1 137.6 337.1 138.6 337.2 139.6 337.2 140.6 337.2 141.6 337.3 142.6 337.3 143.6 337.4 144.6 337.4 145.6 337.4 146.7 337.5 147.7 337.5 148.7 337.6 149.7 337.6 150.7 337.6 151.7 337.7 152.7 337.7 153.7 337.7 154.7 337.8 155.7 337.8 156.7 337.9 157.7 337.9 158.7 337.9 159.7 338.0 160.7 338.0 161.7 338.1 162.7 338.1 163.7 338.1 164.7 338.2 165.7 338.2 166.7 338.3 167.7 338.3 168.7 338.3 169.7 338.4 170.7 338.4 171.7 338.5 172.7 338.5 173.8 338.5 174.8 338.6 175.8 338.6 176.8 338.6 177.8 338.7 178.8 338.7 179.8 338.8 180.8 338.8 181.8 338.8 182.8 338.9 183.8 338.9 184.8 339.0 185.8 339.0 186.8 339.0 185.8 339.1 184.7 339.1 183.7 339.2 182.6 339.2 181.6 339.3 180.6 339.3 179.5 339.4 178.5 339.4 177.4 339.4 176.4 339.5 175.4 339.5 174.3 339.6 173.3 339.6 172.3 339.7 171.2 339.7 170.2 339.7 169.2 339.8 168.1 339.8 167.1 339.9 166.0 339.9 165.0 340.0 164.0 340.0 162.9 340.0 161.8 340.1 160.8 340.1 159.7 340.2 158.6 340.2 157.5 340.3 156.5 340.3 155.4 340.3 154.3 340.4 153.2 340.4 152.2 340.5 151.1 340.5 150.0 340.5 149.0 340.6 148.0 340.6 147.0 340.6 146.0 340.7 145.0 340.7 144.0 340.7 143.0 340.7 142.0 340.8 141.0 340.8 140.0 340.8 139.0 340.9 138.0 340.9 137.0 340.9 136.0 341.0 135.0 341.0 133.9 341.0 132.9 341.1 131.9 341.1 130.8 341.1 129.8 341.1 128.8 341.2 127.7 341.2 126.7 341.2 125.7 341.3 124.6 341.3 123.6 341.3 122.5 341.3 121.5 341.4 120.5 341.4 119.4 341.4 118.3 341.5 117.2 341.5 116.2 341.5 115.1 341.5 114.0 341.6 112.9 341.6 111.8 341.6 110.7 341.7 109.6 341.7 108.5 342.6 110.1 343.3 111.2 343.9 112.4 344.4 113.6 344.8 114.8 345.3 116.0 345.6 117.0 345.8 118.0 346.1 118.9 346.3 119.9 346.6 120.9 346.8 121.9 347.0 122.9 347.3 123.9 347.5 124.9 347.7 125.9 347.9 126.9 348.2 127.9 348.4 128.9 348.6 130.0 348.8 131.0 349.1 132.0 349.3 133.0 349.5 134.0 349.9 132.7 350.2 131.5 350.6 130.2 350.9 129.2 351.3 128.1 351.6 127.1 351.9 126.0 352.2 125.0 352.7 124.0 353.1 123.0 353.6 122.0 354.0 121.0 354.9 120.1 355.9 119.3 356.9 119.0 357.9 118.7 358.9 118.9 360.0 119.0 361.1 119.7 362.2 120.4 363.0 121.2 363.7 122.0 364.5 122.8 365.7 123.4 367.0 123.8 368.4 123.1 369.8 122.8 370.8 122.5 371.8 122.3 372.8 122.0 373.9 121.8 374.9 121.4 376.0 120.7 377.2 120.6 378.3 120.8 379.5 121.3 380.4 122.2 381.3 123.3 382.3 124.2 383.2 125.0 384.5 125.4 385.7 125.4 387.0 125.1 388.3 124.6 389.6 124.5 390.9 124.7 391.9 124.7 392.9 124.6 393.9 124.3 394.9 123.8 395.9 123.2 396.9 122.7 398.0 122.4 399.0 122.3 400.1 122.4 401.1 122.4 402.2 122.2 403.3 121.8 404.4 121.1 405.4 120.4 406.5 119.8 407.6 119.6 408.7 119.9 409.8 120.4 410.9 120.9 412.0 121.1 413.1 121.1 414.1 120.7 415.2 120.3 416.3 119.9 417.3 119.9 418.4 120.1 419.5 120.5 420.5 120.9 421.6 121.2 422.8 121.2 423.9 121.0 425.0 120.8 426.0 120.7 427.0 120.8 428.0 121.1 429.0 121.4 430.0 121.7 431.1 121.7 432.2 121.4 433.2 121.0 434.3 120.6 435.3 120.4 436.5 120.7 437.7 121.3 438.8 122.1 440.0 122.8 441.1 123.1 442.2 123.0 443.3 122.8 444.6 122.5 446.0 122.6 447.2 123.0 448.5 123.6 449.8 124.0 450.9 124.1 452.0 123.9 453.2 123.7 454.3 123.6 455.4 123.7 456.5 124.1 457.7 124.4 458.8 124.7 459.9 124.6 461.0 124.2 462.2 123.7 463.3 123.3 464.4 123.3 465.5 123.7 466.6 124.3 467.8 125.0 468.9 125.4 470.0 125.5 471.1 125.3 472.1 124.8 473.2 124.5 474.3 124.4 475.4 124.6 476.4 125.0 477.5 125.3 478.6 125.5 479.6 125.5 480.7 125.2 481.8 124.9 482.9 124.8 483.9 124.8 485.0 125.1 486.1 125.4 487.2 125.5 488.2 125.4 489.3 124.9 490.4 124.3 491.4 123.8 492.5 123.6 493.6 123.7 494.7 124.1 495.7 124.7 496.8 125.2 497.9 125.4 498.9 125.3 500.0 124.9 501.0 124.5 502.1 124.3 503.1 124.3 504.2 124.6 505.2 125.0 506.3 125.3 507.3 125.5 508.3 125.5 509.4 125.3 510.4 125.1 511.4 125.1 512.5 125.2 513.5 125.5 514.6 125.9 515.7 126.1 516.7 125.9 517.8 125.5 518.9 124.9 520.0 124.4 521.0 124.2 522.1 124.3 523.1 124.7 524.1 125.2 525.2 125.6 526.2 125.9 527.3 125.8 528.3 125.4 529.4 125.0 530.5 124.7 531.5 124.6 532.6 124.9 533.7 125.2 534.8 125.6 535.8 125.8 536.9 125.7 537.9 125.5 539.0 125.3 540.0 125.3 541.0 125.4 542.0 125.7 543.0 126.1" fill="none" stroke="#FF0000" stroke-width="1.3" stroke-dasharray="4 1.2 1.2 1.2" stroke-linejoin="round"/>
<path d="M325.5 26.0 326.4 26.5 327.8 27.1 329.0 26.8 329.5 25.8 330.0 24.7 330.3 23.7 330.6 22.8 331.0 21.8 331.3 20.7 331.6 19.6 331.9 19.2 332.2 19.0 332.4 20.2 332.6 21.5 332.7 22.9 332.8 24.4 332.8 25.5 332.8 26.6 332.9 27.7 332.9 28.8 332.9 29.9 333.0 30.9 333.0 31.9 333.1 32.9 333.1 34.0 333.1 35.0 333.2 36.0 333.2 37.0 333.2 38.0 333.3 39.0 333.3 40.0 333.3 41.0 333.4 42.0 333.4 43.0 333.5 44.0 333.5 45.0 333.5 46.0 333.6 47.0 333.6 48.0 333.6 49.0 333.7 50.0 333.7 51.0 333.8 52.0 333.8 53.0 333.8 54.0 333.9 55.0 333.9 56.0 334.0 57.0 334.0 58.0 334.0 59.0 334.1 60.0 334.1 61.0 334.1 62.0 334.2 63.0 334.2 64.0 334.3 65.0 334.3 66.0 334.3 67.0 334.4 68.0 334.4 69.0 334.5 70.0 334.5 71.0 334.5 72.0 334.6 73.1 334.6 74.1 334.7 75.1 334.7 76.1 334.7 77.1 334.8 78.1 334.8 79.1 334.8 80.1 334.9 81.1 334.9 82.1 335.0 83.1 335.0 84.1 335.0 85.1 335.1 86.1 335.1 87.1 335.2 88.1 335.2 89.1 335.2 90.1 335.3 91.1 335.3 92.1 335.4 93.1 335.4 94.1 335.4 95.1 335.5 96.1 335.5 97.2 335.5 98.2 335.6 99.2 335.6 100.2 335.7 101.2 335.7 102.2 335.7 103.2 335.8 104.2 335.8 105.2 335.9 106.2 335.9 107.3 335.9 108.3 336.0 109.3 336.0 110.3 336.1 111.3 336.1 112.3 336.1 113.3 336.2 114.3 336.2 115.3 336.3 116.3 336.3 117.4 336.3 118.4 336.4 119.4 336.4 120.4 336.5 121.4 336.5 122.4 336.5 123.4 336.6 124.4 336.6 125.4 336.7 126.4 336.7 127.5 336.7 128.5 336.8 129.5 336.8 130.5 336.8 131.5 336.9 132.5 336.9 133.5 337.0 134.5 337.0 135.5 337.0 136.6 337.1 137.6 337.1 138.6 337.2 139.6 337.2 140.6 337.2 141.6 337.3 142.6 337.3 143.6 337.4 144.6 337.4 145.6 337.4 146.7 337.5 147.7 337.5 148.7 337.6 149.7 337.6 150.7 337.6 151.7 337.7 152.7 337.7 153.7 337.7 154.7 337.8 155.7 337.8 156.7 337.9 157.7 337.9 158.7 337.9 159.7 338.0 160.7 338.0 161.7 338.1 162.7 338.1 163.7 338.1 164.7 338.2 165.7 338.2 166.7 338.3 167.7 338.3 168.7 338.3 169.7 338.4 170.7 338.4 171.7 338.5 172.7 338.5 173.8 338.5 174.8 338.6 175.8 338.6 176.8 338.6 177.8 338.7 178.8 338.7 179.8 338.8 180.8 338.8 181.8 338.8 182.8 338.9 183.8 338.9 184.8 339.0 185.8 339.0 186.8 339.0 185.8 339.1 184.8 339.1 183.7 339.2 182.7 339.2 181.7 339.3 180.7 339.3 179.7 339.4 178.6 339.4 177.6 339.5 176.5 339.5 175.4 339.6 174.4 339.6 173.3 339.7 172.3 339.7 171.2 339.8 170.1 339.8 169.1 339.9 168.0 339.9 166.9 340.0 165.9 340.0 164.8 340.1 163.7 340.1 162.6 340.2 161.5 340.2 160.4 340.3 159.3 340.3 158.3 340.4 157.2 340.4 156.1 340.5 155.0 340.6 154.0 340.6 152.9 340.7 151.9 340.7 150.9 340.8 149.8 340.9 148.8 340.9 147.7 341.0 146.7 341.0 145.7 341.1 144.6 341.1 143.6 341.2 142.6 341.3 141.5 341.3 140.5 341.4 139.4 341.5 138.3 341.5 137.3 341.6 136.2 341.6 135.2 341.7 134.1 341.8 133.1 341.8 132.0 341.9 131.0 342.0 129.9 342.0 128.8 342.1 127.7 342.2 126.6 342.2 125.4 342.3 124.3 342.4 123.2 342.4 122.1 342.5 121.0 343.1 122.4 343.5 123.4 343.9 124.4 344.5 125.7 345.0 127.0 345.4 127.9 345.7 128.9 346.1 129.8 346.4 130.8 346.8 131.8 347.2 132.9 347.6 134.0 348.0 135.1 348.4 136.1 348.8 137.2 349.2 138.2 349.8 137.2 350.3 136.1 350.9 135.1 351.5 134.1 352.1 133.0 352.7 131.9 353.3 130.9 353.9 130.0 354.4 129.2 355.0 128.4 355.6 127.6 356.6 127.0 357.6 126.5 359.4 126.3 361.4 126.0 362.4 125.5 363.4 125.0 364.4 124.5 365.5 124.2 366.6 123.9 367.8 123.6 369.2 122.8 370.6 121.5 371.6 120.6 372.6 119.9 373.6 119.6 374.5 119.5 375.5 119.5 376.4 119.6 377.5 119.2 378.7 118.4 379.7 117.3 380.7 116.0 381.8 115.0 382.8 114.3 383.9 114.2 385.0 114.4 386.1 114.9 387.1 115.2 388.2 115.5 389.2 115.6 390.2 115.8 391.2 116.1 392.2 116.8 393.1 117.7 394.6 119.3 395.2 119.9 395.3 120.1 396.0 121.4 396.5 122.4 397.0 123.4 397.6 124.3 398.1 125.1 398.6 125.8 399.1 126.5 399.6 127.3 400.4 127.9 401.2 128.8 402.0 129.8 402.9 130.5 403.8 131.5 404.7 132.4 405.8 133.0 406.8 133.4 407.8 133.5 408.8 133.1 409.9 132.7 410.9 132.5 411.9 132.1 412.8 131.9 413.8 131.9 414.7 131.5 415.7 131.1 416.7 130.5 417.7 129.8 418.8 129.0 419.9 128.4 421.2 128.3 422.5 128.5 423.8 128.7 424.8 128.7 425.9 128.4 427.0 127.7 428.0 126.9 429.3 126.1 430.6 125.7 431.9 125.8 433.0 125.9 434.1 126.0 435.2 125.7 436.2 125.2 437.2 124.4 438.2 123.6 439.5 123.0 440.8 122.7 441.8 123.3 442.8 123.9 443.7 124.7 444.6 125.4 445.7 125.9 446.8 126.2 447.8 126.3 448.9 126.5 449.9 127.0 451.1 127.6 452.3 128.2 453.5 128.5 454.7 128.4 456.0 128.0 457.3 127.5 458.6 127.5 459.8 127.9 461.1 128.7 462.1 129.5 463.1 130.0 464.1 130.3 465.1 130.3 466.4 130.0 467.6 129.7 468.8 129.8 470.0 130.2 471.2 130.6 472.3 130.9 473.5 131.0 474.6 130.9 475.8 130.7 476.8 130.6 477.9 130.8 479.0 131.3 480.1 131.8 481.2 132.2 482.3 132.3 483.4 132.0 484.5 131.5 485.6 130.9 486.7 130.6 487.8 130.6 488.9 130.9 490.0 131.4 491.1 131.8 492.1 132.0 493.2 131.8 494.2 131.4 495.3 131.0 496.3 130.7 497.4 130.6 498.5 130.7 499.5 131.0 500.6 131.2 501.6 131.2 502.7 131.1 503.8 130.9 504.8 130.7 505.9 130.7 507.0 131.1 508.0 131.6 509.1 132.1 510.1 132.4 511.2 132.4 512.3 132.1 513.4 131.5 514.5 131.1 515.6 130.9 516.7 131.1 517.8 131.5 518.9 132.0 520.0 132.4 521.0 132.4 522.0 132.2 523.0 131.7 524.0 131.3 525.0 131.0 526.0 131.0 527.0 131.1 528.0 131.3 529.0 131.4 530.1 131.4 531.1 131.2 532.1 131.0 533.2 130.7 534.2 130.7 535.2 130.9 536.3 131.4 537.3 131.9 538.4 132.3 539.6 132.4 540.7 132.0 541.9 131.5 543.0 131.0" fill="none" stroke="#2020FF" stroke-width="1.3" stroke-linejoin="round"/>
<path d="M325.5 26.0 326.4 26.5 327.8 27.1 329.0 26.8 329.5 25.8 330.0 24.7 330.3 23.7 330.6 22.8 331.0 21.8 331.3 20.7 331.6 19.6 331.9 19.2 332.2 19.0 332.4 20.2 332.6 21.5 332.7 22.9 332.8 24.4 332.8 25.5 332.8 26.6 332.9 27.7 332.9 28.8 332.9 29.9 333.0 30.9 333.0 31.9 333.1 32.9 333.1 34.0 333.1 35.0 333.2 36.0 333.2 37.0 333.2 38.0 333.3 39.0 333.3 40.0 333.3 41.0 333.4 42.0 333.4 43.0 333.5 44.0 333.5 45.0 333.5 46.0 333.6 47.0 333.6 48.0 333.6 49.0 333.7 50.0 333.7 51.0 333.8 52.0 333.8 53.0 333.8 54.0 333.9 55.0 333.9 56.0 334.0 57.0 334.0 58.0 334.0 59.0 334.1 60.0 334.1 61.0 334.1 62.0 334.2 63.0 334.2 64.0 334.3 65.0 334.3 66.0 334.3 67.0 334.4 68.0 334.4 69.0 334.5 70.0 334.5 71.0 334.5 72.0 334.6 73.1 334.6 74.1 334.7 75.1 334.7 76.1 334.7 77.1 334.8 78.1 334.8 79.1 334.8 80.1 334.9 81.1 334.9 82.1 335.0 83.1 335.0 84.1 335.0 85.1 335.1 86.1 335.1 87.1 335.2 88.1 335.2 89.1 335.2 90.1 335.3 91.1 335.3 92.1 335.4 93.1 335.4 94.1 335.4 95.1 335.5 96.1 335.5 97.2 335.5 98.2 335.6 99.2 335.6 100.2 335.7 101.2 335.7 102.2 335.7 103.2 335.8 104.2 335.8 105.2 335.9 106.2 335.9 107.3 335.9 108.3 336.0 109.3 336.0 110.3 336.1 111.3 336.1 112.3 336.1 113.3 336.2 114.3 336.2 115.3 336.3 116.3 336.3 117.4 336.3 118.4 336.4 119.4 336.4 120.4 336.5 121.4 336.5 122.4 336.5 123.4 336.6 124.4 336.6 125.4 336.7 126.4 336.7 127.5 336.7 128.5 336.8 129.5 336.8 130.5 336.8 131.5 336.9 132.5 336.9 133.5 337.0 134.5 337.0 135.5 337.0 136.6 337.1 137.6 337.1 138.6 337.2 139.6 337.2 140.6 337.2 141.6 337.3 142.6 337.3 143.6 337.4 144.6 337.4 145.6 337.4 146.7 337.5 147.7 337.5 148.7 337.6 149.7 337.6 150.7 337.6 151.7 337.7 152.7 337.7 153.7 337.7 154.7 337.8 155.7 337.8 156.7 337.9 157.7 337.9 158.7 337.9 159.7 338.0 160.7 338.0 161.7 338.1 162.7 338.1 163.7 338.1 164.7 338.2 165.7 338.2 166.7 338.3 167.7 338.3 168.7 338.3 169.7 338.4 170.7 338.4 171.7 338.5 172.7 338.5 173.8 338.5 174.8 338.6 175.8 338.6 176.8 338.6 177.8 338.7 178.8 338.7 179.8 338.8 180.8 338.8 181.8 338.8 182.8 338.9 183.8 338.9 184.8 339.0 185.8 339.0 186.8 339.1 185.5 339.2 184.2 339.3 182.9 339.4 181.7 339.5 180.6 339.6 179.4 339.7 178.3 339.8 177.1 339.9 176.1 340.0 175.1 340.1 174.1 340.2 173.0 340.3 172.0 340.4 171.0 340.5 170.0 340.6 168.9 340.7 167.8 340.9 166.7 341.0 165.7 341.1 164.6 341.2 163.5 341.3 162.4 341.4 161.3 341.6 160.2 341.7 159.2 341.8 158.2 341.9 157.2 342.0 156.2 342.1 155.2 342.2 154.2 342.4 153.2 342.5 152.1 342.6 151.1 342.7 150.1 342.8 149.1 342.9 148.0 343.1 146.9 343.2 145.7 343.3 144.6 343.4 143.5 343.6 142.3 343.7 141.2 344.4 142.0 345.0 142.9 345.7 143.7 346.4 144.6 347.1 145.5 347.8 146.4 348.5 147.3 349.2 148.1 349.8 149.0 350.5 149.8 351.0 148.7 351.4 147.5 351.9 146.5 352.4 145.4 352.9 144.4 353.6 143.6 354.3 142.9 355.0 142.1 356.0 142.0 357.1 141.8 358.1 141.7 359.4 141.8 360.6 142.0 361.9 142.2 363.2 142.2 364.4 142.2 365.7 141.9 366.9 141.1 368.1 140.4 369.3 140.0 370.5 139.9 371.6 140.0 372.8 139.9 374.0 139.4 375.2 138.5 376.4 137.5 377.7 136.6 378.9 136.2 380.2 136.2 381.5 136.5 382.7 136.6 384.0 136.4 385.0 135.9 386.1 135.3 387.1 134.8 388.1 134.2 389.0 133.7 390.3 133.1 391.4 133.0 392.5 133.3 393.5 134.0 394.0 134.8 394.6 135.5 395.0 136.4 395.5 137.4 395.9 138.5 396.3 139.5 396.6 140.5 397.0 141.6 397.4 142.8 397.9 144.1 398.5 145.5 399.0 146.9 399.9 148.5 400.8 149.9 401.8 150.9 402.7 151.5 403.9 151.5 405.0 151.3 406.4 150.9 407.7 151.0 408.8 151.1 409.8 151.5 410.8 151.8 411.8 151.7 412.9 151.4 413.9 150.8 414.9 150.0 415.9 149.2 416.9 148.6 417.9 147.9 418.9 147.4 419.9 146.8 420.9 146.2 421.9 145.3 422.9 144.3 423.9 143.7 424.9 143.1 425.8 142.8 427.3 143.1 428.8 143.6 429.8 143.8 430.9 143.6 431.9 143.2 433.1 142.2 434.2 141.3 435.4 140.6 436.6 140.3 437.8 140.4 439.0 140.5 440.1 140.7 441.2 140.6 442.3 140.3 443.6 140.5 444.9 140.8 446.0 141.9 447.2 143.0 448.1 143.8 448.9 144.5 449.8 145.0 450.9 145.1 452.0 145.1 453.1 145.2 454.3 145.6 455.5 146.3 456.7 147.3 457.9 148.0 459.1 148.5 460.3 148.5 461.8 148.1 463.2 147.7 464.6 147.8 466.0 148.4 467.4 149.1 468.7 149.5 470.0 149.6 471.2 149.4 472.4 149.2 473.5 149.1 474.7 149.3 475.9 149.6 476.9 149.8 477.9 149.9 478.9 149.7 479.9 149.3 480.9 148.8 481.9 148.6 483.0 148.5 484.0 148.8 485.0 149.2 486.0 149.6 487.0 149.8 488.0 149.7 489.0 149.3 490.0 148.7 491.0 148.1 492.1 147.7 493.1 147.7 494.1 147.9 495.2 148.3 496.2 148.8 497.2 149.0 498.2 149.1 499.3 149.0 500.3 148.8 501.3 148.7 502.4 148.8 503.5 149.1 504.6 149.5 505.6 149.8 506.7 149.9 507.8 149.7 508.9 149.3 510.0 149.1 511.0 149.1 512.0 149.3 513.1 149.8 514.1 150.4 515.1 150.8 516.1 150.9 517.2 150.7 518.2 150.3 519.2 149.7 520.2 149.3 521.3 149.2 522.3 149.4 523.4 149.8 524.4 150.3 525.5 150.7 526.6 150.8 527.6 150.7 528.7 150.5 529.7 150.4 530.8 150.6 531.8 150.9 532.9 151.3 534.0 151.7 535.0 151.8 536.0 151.8 537.0 151.6 538.0 151.3 539.0 151.2 540.0 151.4 541.0 151.8 542.0 152.4 543.0 152.9" fill="none" stroke="#008000" stroke-width="1.3" stroke-dasharray="4 1.2 1.2 1.2" stroke-linejoin="round"/>
<path d="M325.5 26.0 326.4 26.5 327.8 27.1 329.0 26.8 329.5 25.8 330.0 24.7 330.3 23.7 330.6 22.8 331.0 21.8 331.3 20.7 331.6 19.6 331.9 19.2 332.2 19.0 332.4 20.2 332.6 21.5 332.7 22.9 332.8 24.4 332.8 25.5 332.8 26.6 332.9 27.7 332.9 28.8 332.9 29.9 333.0 30.9 333.0 31.9 333.1 32.9 333.1 34.0 333.1 35.0 333.2 36.0 333.2 37.0 333.2 38.0 333.3 39.0 333.3 40.0 333.3 41.0 333.4 42.0 333.4 43.0 333.5 44.0 333.5 45.0 333.5 46.0 333.6 47.0 333.6 48.0 333.6 49.0 333.7 50.0 333.7 51.0 333.8 52.0 333.8 53.0 333.8 54.0 333.9 55.0 333.9 56.0 334.0 57.0 334.0 58.0 334.0 59.0 334.1 60.0 334.1 61.0 334.1 62.0 334.2 63.0 334.2 64.0 334.3 65.0 334.3 66.0 334.3 67.0 334.4 68.0 334.4 69.0 334.5 70.0 334.5 71.0 334.5 72.0 334.6 73.1 334.6 74.1 334.7 75.1 334.7 76.1 334.7 77.1 334.8 78.1 334.8 79.1 334.8 80.1 334.9 81.1 334.9 82.1 335.0 83.1 335.0 84.1 335.0 85.1 335.1 86.1 335.1 87.1 335.2 88.1 335.2 89.1 335.2 90.1 335.3 91.1 335.3 92.1 335.4 93.1 335.4 94.1 335.4 95.1 335.5 96.1 335.5 97.2 335.5 98.2 335.6 99.2 335.6 100.2 335.7 101.2 335.7 102.2 335.7 103.2 335.8 104.2 335.8 105.2 335.9 106.2 335.9 107.3 335.9 108.3 336.0 109.3 336.0 110.3 336.1 111.3 336.1 112.3 336.1 113.3 336.2 114.3 336.2 115.3 336.3 116.3 336.3 117.4 336.3 118.4 336.4 119.4 336.4 120.4 336.5 121.4 336.5 122.4 336.5 123.4 336.6 124.4 336.6 125.4 336.7 126.4 336.7 127.5 336.7 128.5 336.8 129.5 336.8 130.5 336.8 131.5 336.9 132.5 336.9 133.5 337.0 134.5 337.0 135.5 337.0 136.6 337.1 137.6 337.1 138.6 337.2 139.6 337.2 140.6 337.2 141.6 337.3 142.6 337.3 143.6 337.4 144.6 337.4 145.6 337.4 146.7 337.5 147.7 337.5 148.7 337.6 149.7 337.6 150.7 337.6 151.7 337.7 152.7 337.7 153.7 337.7 154.7 337.8 155.7 337.8 156.7 337.9 157.7 337.9 158.7 337.9 159.7 338.0 160.7 338.0 161.7 338.1 162.7 338.1 163.7 338.1 164.7 338.2 165.7 338.2 166.7 338.3 167.7 338.3 168.7 338.3 169.7 338.4 170.7 338.4 171.7 338.5 172.7 338.5 173.8 338.5 174.8 338.6 175.8 338.6 176.8 338.6 177.8 338.7 178.8 338.7 179.8 338.8 180.8 338.8 181.8 338.8 182.8 338.9 183.8 338.9 184.8 339.0 185.8 339.0 186.8 339.1 185.7 339.1 184.7 339.2 183.6 339.3 182.6 339.3 181.5 339.4 180.4 339.5 179.3 339.5 178.2 339.6 177.1 339.7 176.0 339.7 174.9 339.8 173.8 339.9 172.7 340.0 171.6 340.1 170.5 340.2 169.4 340.2 168.3 340.3 167.2 340.4 166.1 340.5 165.0 340.6 163.9 340.7 162.8 340.8 161.7 340.9 160.6 341.0 159.5 341.1 158.4 341.2 157.3 341.3 156.2 341.5 155.1 341.6 154.1 341.7 153.0 341.8 152.0 341.9 151.0 342.0 150.0 342.1 149.0 342.2 148.0 342.3 147.0 342.4 146.0 342.5 145.0 342.6 144.0 342.7 143.0 342.8 142.0 342.9 141.0 343.0 139.9 343.1 138.8 343.3 137.8 343.4 136.7 343.5 135.6 343.6 134.6 343.7 133.5 344.0 134.5 344.2 135.5 344.5 136.5 344.8 137.5 345.1 138.5 345.3 139.5 345.6 140.5 345.9 141.5 346.2 142.6 346.5 143.7 346.8 144.7 347.0 145.8 347.3 146.8 347.6 147.9 347.9 149.0 348.2 150.0 348.5 151.0 348.7 152.0 349.0 153.0 349.3 154.0 349.6 155.0 349.8 156.0 350.1 157.0 350.5 156.0 350.8 154.9 351.2 153.9 351.6 152.8 351.9 151.9 352.3 150.9 352.6 149.9 353.0 149.0 353.3 148.0 353.6 147.1 354.1 146.1 354.6 145.0 355.1 144.0 355.6 143.0 357.2 142.2 358.6 143.1 360.0 144.0 361.4 144.7 362.7 145.5 364.2 145.6 365.1 144.9 366.0 144.3 366.6 143.6 367.3 142.7 368.0 141.8 368.6 140.7 369.3 139.4 370.0 138.1 370.7 136.9 371.4 135.8 372.1 134.8 372.9 134.0 373.6 133.4 374.3 132.9 375.4 132.3 376.4 131.6 377.3 130.6 378.1 129.5 378.9 128.3 379.8 127.1 380.7 126.2 381.7 125.4 383.1 125.4 384.4 125.6 385.5 125.9 386.5 126.1 387.5 126.0 388.8 125.7 390.0 125.6 391.3 125.4 392.0 125.3 393.0 126.6 393.6 127.8 394.2 129.0 394.8 130.1 395.3 131.1 395.8 132.1 396.4 132.9 396.9 133.7 397.6 134.4 398.3 134.9 399.0 135.5 400.0 135.7 400.9 136.1 401.9 136.5 402.9 137.0 403.9 137.5 405.0 137.9 406.0 137.9 407.1 137.7 408.2 137.1 409.3 136.6 410.3 136.4 411.4 136.5 412.4 136.7 413.5 137.0 414.6 137.2 415.7 137.2 416.8 136.9 417.9 136.7 419.0 136.7 420.0 136.9 421.1 137.5 422.1 138.3 423.2 138.9 424.2 139.3 425.3 139.3 426.3 139.0 427.4 138.6 428.6 138.1 429.9 138.0 431.1 138.3 432.4 138.8 433.6 139.2 434.9 139.2 436.1 138.9 437.3 138.6 438.6 138.4 439.8 138.5 441.1 138.9 442.3 139.2 443.3 139.3 444.3 139.2 445.3 139.0 446.4 138.8 447.4 138.7 448.4 139.0 449.4 139.5 450.4 140.3 451.4 141.0 452.5 141.6 453.7 141.8 454.9 141.6 456.1 141.3 457.3 141.0 458.3 141.2 459.4 141.6 460.4 142.2 461.4 142.8 462.4 143.3 463.4 143.5 464.3 143.6 465.3 143.5 466.5 143.4 467.7 143.5 468.8 143.8 470.0 144.3 471.2 144.5 472.5 144.4 473.7 144.2 474.9 144.0 476.0 144.0 477.2 144.2 478.3 144.6 479.5 144.9 480.6 145.1 481.7 145.1 482.7 145.0 483.7 145.0 484.8 144.9 485.8 144.9 486.9 144.9 487.9 144.9 489.0 145.0 490.0 145.1 491.0 145.1 492.0 145.1 493.0 145.1 494.0 145.0 495.1 145.0 496.1 145.0 497.1 145.0 498.1 145.0 499.1 145.1 500.1 145.1 501.1 145.0 502.1 145.0 503.1 144.9 504.2 144.9 505.2 144.9 506.2 144.9 507.2 145.0 508.2 145.1 509.3 145.2 510.3 145.2 511.4 145.1 512.4 145.1 513.4 145.0 514.5 145.0 515.5 145.0 516.6 145.0 517.6 145.1 518.7 145.1 519.7 145.2 520.7 145.1 521.8 145.1 522.8 145.1 523.9 145.0 524.9 145.0 526.0 145.1 527.0 145.1 528.0 145.1 529.1 145.1 530.2 145.0 531.2 144.9 532.3 144.9 533.4 144.8 534.4 144.9 535.5 144.9 536.6 145.0 537.7 145.1 538.7 145.1 539.8 145.1 540.9 145.0 541.9 144.9 543.0 144.9" fill="none" stroke="#FF00FF" stroke-width="1.3" stroke-linejoin="round"/>
<path d="M325.5 26.0 326.4 26.5 327.8 27.1 329.0 26.8 329.5 25.8 330.0 24.7 330.3 23.7 330.6 22.8 331.0 21.8 331.3 20.7 331.6 19.6 331.9 19.2 332.2 19.0 332.4 20.2 332.6 21.5 332.7 22.9 332.8 24.4 332.8 25.5 332.8 26.6 332.9 27.7 332.9 28.8 332.9 29.9 333.0 30.9 333.0 31.9 333.1 32.9 333.1 34.0 333.1 35.0 333.2 36.0 333.2 37.0 333.2 38.0 333.3 39.0 333.3 40.0 333.3 41.0 333.4 42.0 333.4 43.0 333.5 44.0 333.5 45.0 333.5 46.0 333.6 47.0 333.6 48.0 333.6 49.0 333.7 50.0 333.7 51.0 333.8 52.0 333.8 53.0 333.8 54.0 333.9 55.0 333.9 56.0 334.0 57.0 334.0 58.0 334.0 59.0 334.1 60.0 334.1 61.0 334.1 62.0 334.2 63.0 334.2 64.0 334.3 65.0 334.3 66.0 334.3 67.0 334.4 68.0 334.4 69.0 334.5 70.0 334.5 71.0 334.5 72.0 334.6 73.1 334.6 74.1 334.7 75.1 334.7 76.1 334.7 77.1 334.8 78.1 334.8 79.1 334.8 80.1 334.9 81.1 334.9 82.1 335.0 83.1 335.0 84.1 335.0 85.1 335.1 86.1 335.1 87.1 335.2 88.1 335.2 89.1 335.2 90.1 335.3 91.1 335.3 92.1 335.4 93.1 335.4 94.1 335.4 95.1 335.5 96.1 335.5 97.2 335.5 98.2 335.6 99.2 335.6 100.2 335.7 101.2 335.7 102.2 335.7 103.2 335.8 104.2 335.8 105.2 335.9 106.2 335.9 107.3 335.9 108.3 336.0 109.3 336.0 110.3 336.1 111.3 336.1 112.3 336.1 113.3 336.2 114.3 336.2 115.3 336.3 116.3 336.3 117.4 336.3 118.4 336.4 119.4 336.4 120.4 336.5 121.4 336.5 122.4 336.5 123.4 336.6 124.4 336.6 125.4 336.7 126.4 336.7 127.5 336.7 128.5 336.8 129.5 336.8 130.5 336.8 131.5 336.9 132.5 336.9 133.5 337.0 134.5 337.0 135.5 337.0 136.6 337.1 137.6 337.1 138.6 337.2 139.6 337.2 140.6 337.2 141.6 337.3 142.6 337.3 143.6 337.4 144.6 337.4 145.6 337.4 146.7 337.5 147.7 337.5 148.7 337.6 149.7 337.6 150.7 337.6 151.7 337.7 152.7 337.7 153.7 337.7 154.7 337.8 155.7 337.8 156.7 337.9 157.7 337.9 158.7 337.9 159.7 338.0 160.7 338.0 161.7 338.1 162.7 338.1 163.7 338.1 164.7 338.2 165.7 338.2 166.7 338.3 167.7 338.3 168.7 338.3 169.7 338.4 170.7 338.4 171.7 338.5 172.7 338.5 173.8 338.5 174.8 338.6 175.8 338.6 176.8 338.6 177.8 338.7 178.8 338.7 179.8 338.8 180.8 338.8 181.8 338.8 182.8 338.9 183.8 338.9 184.8 339.0 185.8 339.0 186.8 339.1 185.7 339.2 184.5 339.4 183.4 339.5 182.3 339.6 181.3 339.7 180.3 339.8 179.3 339.9 178.3 340.0 177.2 340.1 176.2 340.2 175.1 340.3 174.1 340.4 173.0 340.5 172.0 340.6 170.9 340.7 169.8 340.8 168.7 340.9 167.7 341.0 166.6 341.1 165.5 341.2 164.4 341.3 163.3 341.4 162.2 341.5 161.1 341.6 160.0 341.7 158.9 341.8 157.8 341.9 156.7 342.0 155.6 342.1 154.5 342.2 153.4 342.3 152.4 342.4 151.4 342.4 150.4 342.5 149.4 342.6 148.4 342.7 147.4 342.8 146.4 343.2 147.3 343.7 148.2 344.1 149.1 344.5 150.1 345.0 151.0 345.5 152.0 346.0 153.1 346.4 154.1 346.9 155.1 347.4 156.2 347.9 157.2 348.4 158.1 348.8 159.1 349.2 160.0 349.7 160.9 350.1 161.8 350.7 160.8 351.4 159.9 352.0 159.0 352.6 158.1 353.2 157.2 354.1 156.0 355.0 154.9 355.7 154.1 356.4 153.3 357.8 152.2 359.3 151.7 360.9 152.8 361.8 153.6 362.6 154.4 364.6 154.6 365.4 153.8 366.2 153.2 367.1 152.6 367.6 151.8 368.1 151.1 368.7 150.1 369.2 149.1 369.8 148.1 370.3 146.9 370.9 145.7 371.5 144.5 372.1 143.3 372.9 142.2 373.7 141.2 374.9 140.3 376.4 139.9 377.4 139.7 378.5 139.4 379.6 138.9 380.7 138.3 381.8 138.0 382.8 137.8 384.4 138.5 385.7 139.5 387.1 139.7 388.0 139.1 388.9 138.3 389.9 137.1 390.8 136.1 392.4 135.1 393.3 135.4 393.9 136.1 394.6 137.0 395.2 138.0 395.9 139.0 397.5 139.1 398.5 138.2 399.4 137.2 400.4 136.2 401.3 135.3 402.2 134.7 403.2 134.4 404.1 134.2 405.4 134.4 406.7 134.4 408.0 134.0 409.0 134.3 410.0 134.6 411.0 135.0 412.0 135.7 412.8 136.6 413.6 137.5 414.4 138.3 415.3 139.0 416.1 139.5 417.0 139.9 418.0 140.1 418.9 140.4 419.9 140.9 421.0 141.4 422.0 142.2 423.1 143.2 424.1 143.8 425.0 144.3 426.0 144.4 427.5 144.1 428.9 143.7 430.3 143.7 431.8 144.3 433.2 145.2 434.6 146.0 435.7 146.2 436.7 146.3 437.8 146.3 439.1 146.3 440.4 146.6 441.7 147.1 442.8 147.5 443.9 147.6 444.9 147.5 446.0 147.1 447.3 146.8 448.5 146.7 449.8 147.0 451.1 148.0 452.4 149.1 453.5 149.9 454.6 150.3 455.9 150.2 457.3 149.9 458.5 149.7 459.7 149.9 460.9 150.4 461.9 150.8 463.0 151.2 464.0 151.3 465.0 151.3 466.3 151.1 467.5 151.1 468.8 151.3 470.0 151.8 471.2 152.2 472.3 152.4 473.5 152.3 474.6 151.9 475.8 151.5 476.8 151.4 477.9 151.5 479.0 151.9 480.1 152.5 481.2 153.0 482.3 153.2 483.4 153.0 484.5 152.4 485.6 151.8 486.7 151.4 487.8 151.3 488.9 151.4 490.0 151.8 491.1 152.0 492.1 152.2 493.2 152.1 494.2 151.8 495.3 151.6 496.3 151.6 497.4 151.8 498.5 152.1 499.5 152.5 500.6 152.8 501.6 152.7 502.7 152.5 503.8 152.1 504.8 151.8 505.9 151.9 507.0 152.2 508.0 152.8 509.1 153.5 510.1 153.9 511.2 154.0 512.3 153.7 513.4 153.2 514.5 152.7 515.6 152.4 516.7 152.4 517.8 152.7 518.9 153.0 520.0 153.2 521.0 153.2 522.0 153.0 523.0 152.7 524.0 152.5 525.0 152.4 526.0 152.6 527.0 152.9 528.0 153.2 529.0 153.4 530.1 153.3 531.1 153.0 532.1 152.6 533.2 152.2 534.2 152.2 535.2 152.4 536.3 152.9 537.3 153.6 538.4 154.1 539.6 154.3 540.7 154.0 541.9 153.5 543.0 153.0" fill="none" stroke="#000080" stroke-width="1.3" stroke-dasharray="4 1.2 1.2 1.2" stroke-linejoin="round"/>
<path d="M325.5 26.0 326.4 26.5 327.8 27.1 329.0 26.8 329.5 25.8 330.0 24.7 330.3 23.7 330.6 22.8 331.0 21.8 331.3 20.7 331.6 19.6 331.9 19.2 332.2 19.0 332.4 20.2 332.6 21.5 332.7 22.9 332.8 24.4 332.8 25.5 332.8 26.6 332.9 27.7 332.9 28.8 332.9 29.9 333.0 30.9 333.0 31.9 333.1 32.9 333.1 34.0 333.1 35.0 333.2 36.0 333.2 37.0 333.2 38.0 333.3 39.0 333.3 40.0 333.3 41.0 333.4 42.0 333.4 43.0 333.5 44.0 333.5 45.0 333.5 46.0 333.6 47.0 333.6 48.0 333.6 49.0 333.7 50.0 333.7 51.0 333.8 52.0 333.8 53.0 333.8 54.0 333.9 55.0 333.9 56.0 334.0 57.0 334.0 58.0 334.0 59.0 334.1 60.0 334.1 61.0 334.1 62.0 334.2 63.0 334.2 64.0 334.3 65.0 334.3 66.0 334.3 67.0 334.4 68.0 334.4 69.0 334.5 70.0 334.5 71.0 334.5 72.0 334.6 73.1 334.6 74.1 334.7 75.1 334.7 76.1 334.7 77.1 334.8 78.1 334.8 79.1 334.8 80.1 334.9 81.1 334.9 82.1 335.0 83.1 335.0 84.1 335.0 85.1 335.1 86.1 335.1 87.1 335.2 88.1 335.2 89.1 335.2 90.1 335.3 91.1 335.3 92.1 335.4 93.1 335.4 94.1 335.4 95.1 335.5 96.1 335.5 97.2 335.5 98.2 335.6 99.2 335.6 100.2 335.7 101.2 335.7 102.2 335.7 103.2 335.8 104.2 335.8 105.2 335.9 106.2 335.9 107.3 335.9 108.3 336.0 109.3 336.0 110.3 336.1 111.3 336.1 112.3 336.1 113.3 336.2 114.3 336.2 115.3 336.3 116.3 336.3 117.4 336.3 118.4 336.4 119.4 336.4 120.4 336.5 121.4 336.5 122.4 336.5 123.4 336.6 124.4 336.6 125.4 336.7 126.4 336.7 127.5 336.7 128.5 336.8 129.5 336.8 130.5 336.8 131.5 336.9 132.5 336.9 133.5 337.0 134.5 337.0 135.5 337.0 136.6 337.1 137.6 337.1 138.6 337.2 139.6 337.2 140.6 337.2 141.6 337.3 142.6 337.3 143.6 337.4 144.6 337.4 145.6 337.4 146.7 337.5 147.7 337.5 148.7 337.6 149.7 337.6 150.7 337.6 151.7 337.7 152.7 337.7 153.7 337.7 154.7 337.8 155.7 337.8 156.7 337.9 157.7 337.9 158.7 337.9 159.7 338.0 160.7 338.0 161.7 338.1 162.7 338.1 163.7 338.1 164.7 338.2 165.7 338.2 166.7 338.3 167.7 338.3 168.7 338.3 169.7 338.4 170.7 338.4 171.7 338.5 172.7 338.5 173.8 338.5 174.8 338.6 175.8 338.6 176.8 338.6 177.8 338.7 178.8 338.7 179.8 338.8 180.8 338.8 181.8 338.8 182.8 338.9 183.8 338.9 184.8 339.0 185.8 339.0 186.8 339.1 185.7 339.1 184.5 339.2 183.4 339.2 182.3 339.3 181.2 339.3 180.0 339.4 178.9 339.5 177.9 339.5 176.8 339.6 175.7 339.6 174.6 339.7 173.5 339.7 172.4 339.8 171.4 339.9 170.3 339.9 169.3 340.0 168.2 340.1 167.2 340.1 166.2 340.2 165.1 340.2 164.1 340.3 163.1 340.4 162.1 340.4 161.0 340.5 160.0 340.6 159.0 340.7 157.9 340.7 156.9 340.8 155.9 340.9 154.8 341.0 153.8 341.1 152.8 341.1 151.7 341.2 150.7 341.3 149.7 341.4 148.7 341.5 147.6 341.6 146.5 341.7 145.4 341.7 144.3 341.8 143.3 341.9 142.2 342.0 141.1 342.1 140.0 342.2 138.9 342.3 137.9 342.4 136.8 342.5 135.7 342.6 134.7 342.7 133.6 342.7 132.6 342.8 131.5 342.9 130.5 343.0 129.4 343.1 128.4 343.4 129.4 343.8 130.5 344.1 131.5 344.5 132.5 344.8 133.6 345.2 134.6 345.5 135.6 345.8 136.5 346.1 137.5 346.4 138.4 346.8 139.4 347.1 140.3 347.4 141.3 347.7 142.2 348.0 143.2 348.4 144.2 348.7 145.3 349.1 146.3 349.4 147.3 349.8 148.4 350.1 149.4 350.3 148.4 350.6 147.5 350.8 146.5 351.0 145.5 351.2 144.5 351.5 143.6 351.7 142.6 352.0 141.6 352.2 140.6 352.5 139.6 352.7 138.5 353.0 137.5 353.2 136.5 353.5 135.5 353.9 134.4 354.3 133.3 354.7 132.2 355.2 131.1 355.6 130.0 356.7 129.8 357.8 129.6 358.6 130.3 359.3 131.0 360.1 131.7 361.3 132.1 362.5 132.6 363.3 132.1 364.1 131.6 365.0 131.1 365.8 130.2 366.6 129.2 367.5 128.1 368.3 127.2 369.2 126.4 370.0 125.7 371.3 125.9 372.5 126.5 373.8 127.4 375.1 127.9 376.3 127.7 377.5 127.2 378.6 126.3 379.7 125.7 380.8 125.2 381.8 125.1 382.9 125.1 383.9 125.1 385.0 125.1 386.1 124.7 387.2 124.2 388.4 123.8 390.3 123.4 391.7 123.2 392.9 123.0 394.0 122.8 395.0 122.4 396.0 122.2 397.5 123.0 398.2 123.9 398.9 125.0 399.7 126.2 400.3 127.4 401.0 128.7 401.6 130.1 402.2 131.3 402.9 132.4 403.6 133.3 404.3 134.1 405.0 134.7 405.7 135.2 406.4 135.6 407.1 136.1 407.9 136.7 408.6 137.3 409.4 138.1 410.1 139.1 410.9 140.2 411.9 141.1 412.9 141.9 413.9 142.5 415.3 141.7 416.8 140.8 417.7 139.9 418.7 139.2 419.7 138.6 420.7 138.2 421.8 137.7 422.9 137.0 423.9 136.5 424.8 135.9 425.8 135.3 426.8 135.0 427.8 134.9 428.9 135.1 430.0 135.4 431.0 135.5 432.0 135.4 433.0 134.9 433.9 134.1 434.9 133.2 436.0 132.1 437.0 131.2 438.1 130.7 439.0 130.3 440.0 130.0 440.9 129.6 441.9 129.3 442.8 128.7 443.8 128.0 445.1 127.6 446.5 127.4 447.8 128.0 449.2 128.8 450.4 129.4 451.6 129.7 452.8 129.7 453.8 129.7 454.8 129.8 455.8 130.1 456.8 130.7 457.8 131.5 458.8 132.3 459.8 132.9 460.8 133.2 461.8 133.2 462.8 133.0 463.8 132.7 464.8 132.5 465.8 132.6 466.9 132.9 467.9 133.5 469.0 134.1 470.0 134.5 471.0 134.5 472.0 134.3 473.0 134.0 474.1 133.7 475.1 133.7 476.1 133.8 477.2 134.0 478.2 134.2 479.3 134.2 480.4 134.0 481.4 133.7 482.5 133.4 483.6 133.2 484.6 133.4 485.7 133.8 486.8 134.4 487.9 135.0 488.9 135.2 490.0 135.1 491.1 134.7 492.1 134.2 493.2 133.8 494.2 133.8 495.3 134.0 496.3 134.4 497.4 134.9 498.5 135.1 499.5 135.2 500.6 134.9 501.6 134.6 502.7 134.3 503.8 134.2 504.8 134.3 505.9 134.5 507.0 134.6 508.0 134.6 509.1 134.4 510.1 134.0 511.2 133.6 512.3 133.5 513.4 133.8 514.5 134.3 515.6 134.9 516.7 135.4 517.8 135.5 518.9 135.3 520.0 134.8 521.0 134.4 522.0 134.1 523.0 134.1 524.0 134.4 525.0 134.9 526.0 135.3 527.0 135.6 528.0 135.6 529.0 135.4 530.1 135.0 531.1 134.8 532.1 134.6 533.2 134.7 534.2 134.8 535.2 135.0 536.3 135.0 537.3 134.7 538.4 134.3 539.6 133.8 540.7 133.6 541.9 133.8 543.0 134.2" fill="none" stroke="#8000FF" stroke-width="1.3" stroke-linejoin="round"/>
<path d="M325.5 26.0 326.4 26.5 327.8 27.1 329.0 26.8 329.5 25.8 330.0 24.7 330.3 23.7 330.6 22.8 331.0 21.8 331.3 20.7 331.6 19.6 331.9 19.2 332.2 19.0 332.4 20.2 332.6 21.5 332.7 22.9 332.8 24.4 332.8 25.5 332.8 26.6 332.9 27.7 332.9 28.8 332.9 29.9 333.0 30.9 333.0 31.9 333.1 32.9 333.1 34.0 333.1 35.0 333.2 36.0 333.2 37.0 333.2 38.0 333.3 39.0 333.3 40.0 333.3 41.0 333.4 42.0 333.4 43.0 333.5 44.0 333.5 45.0 333.5 46.0 333.6 47.0 333.6 48.0 333.6 49.0 333.7 50.0 333.7 51.0 333.8 52.0 333.8 53.0 333.8 54.0 333.9 55.0 333.9 56.0 334.0 57.0 334.0 58.0 334.0 59.0 334.1 60.0 334.1 61.0 334.1 62.0 334.2 63.0 334.2 64.0 334.3 65.0 334.3 66.0 334.3 67.0 334.4 68.0 334.4 69.0 334.5 70.0 334.5 71.0 334.5 72.0 334.6 73.1 334.6 74.1 334.7 75.1 334.7 76.1 334.7 77.1 334.8 78.1 334.8 79.1 334.8 80.1 334.9 81.1 334.9 82.1 335.0 83.1 335.0 84.1 335.0 85.1 335.1 86.1 335.1 87.1 335.2 88.1 335.2 89.1 335.2 90.1 335.3 91.1 335.3 92.1 335.4 93.1 335.4 94.1 335.4 95.1 335.5 96.1 335.5 97.2 335.5 98.2 335.6 99.2 335.6 100.2 335.7 101.2 335.7 102.2 335.7 103.2 335.8 104.2 335.8 105.2 335.9 106.2 335.9 107.3 335.9 108.3 336.0 109.3 336.0 110.3 336.1 111.3 336.1 112.3 336.1 113.3 336.2 114.3 336.2 115.3 336.3 116.3 336.3 117.4 336.3 118.4 336.4 119.4 336.4 120.4 336.5 121.4 336.5 122.4 336.5 123.4 336.6 124.4 336.6 125.4 336.7 126.4 336.7 127.5 336.7 128.5 336.8 129.5 336.8 130.5 336.8 131.5 336.9 132.5 336.9 133.5 337.0 134.5 337.0 135.5 337.0 136.6 337.1 137.6 337.1 138.6 337.2 139.6 337.2 140.6 337.2 141.6 337.3 142.6 337.3 143.6 337.4 144.6 337.4 145.6 337.4 146.7 337.5 147.7 337.5 148.7 337.6 149.7 337.6 150.7 337.6 151.7 337.7 152.7 337.7 153.7 337.7 154.7 337.8 155.7 337.8 156.7 337.9 157.7 337.9 158.7 337.9 159.7 338.0 160.7 338.0 161.7 338.1 162.7 338.1 163.7 338.1 164.7 338.2 165.7 338.2 166.7 338.3 167.7 338.3 168.7 338.3 169.7 338.4 170.7 338.4 171.7 338.5 172.7 338.5 173.8 338.5 174.8 338.6 175.8 338.6 176.8 338.6 177.8 338.7 178.8 338.7 179.8 338.8 180.8 338.8 181.8 338.8 182.8 338.9 183.8 338.9 184.8 339.0 185.8 339.0 186.8 339.1 185.8 339.1 184.7 339.2 183.7 339.2 182.7 339.3 181.6 339.3 180.6 339.4 179.5 339.5 178.4 339.5 177.2 339.6 176.1 339.7 175.0 339.7 173.9 339.8 172.8 339.9 171.6 339.9 170.6 340.0 169.5 340.1 168.4 340.1 167.4 340.2 166.3 340.3 165.2 340.4 164.1 340.4 163.1 340.5 162.0 340.6 161.0 340.7 160.0 340.7 159.0 340.8 158.0 340.9 157.0 341.0 156.0 341.1 155.0 341.1 154.0 341.2 153.0 341.3 152.0 341.4 151.0 341.5 149.9 341.6 148.8 341.7 147.8 341.7 146.7 341.8 145.7 341.9 144.6 342.0 143.5 342.1 142.5 342.2 141.4 342.3 140.3 342.4 139.3 342.5 138.2 342.6 137.2 342.7 136.2 342.7 135.1 342.8 134.1 342.9 133.1 343.0 132.0 343.1 131.0 343.5 132.1 343.9 133.3 344.2 134.4 344.6 135.5 345.0 136.6 345.3 137.6 345.6 138.6 346.0 139.5 346.3 140.5 346.6 141.5 347.0 142.4 347.3 143.4 347.6 144.4 348.0 145.5 348.4 146.6 348.7 147.7 349.1 148.9 349.5 150.0 349.9 149.0 350.2 148.0 350.6 146.9 350.9 145.9 351.3 144.9 351.6 143.9 352.0 142.8 352.4 141.8 352.8 140.7 353.1 139.7 353.5 138.6 353.9 137.6 354.3 136.5 354.7 135.5 355.2 134.6 355.7 133.7 356.2 132.8 356.7 131.9 357.2 131.1 357.7 130.2 358.2 129.3 359.2 128.9 360.2 128.5 361.2 128.0 362.2 127.4 363.4 127.4 364.5 127.5 365.6 127.8 366.7 128.1 367.8 128.3 368.9 128.3 369.9 128.2 371.0 128.2 372.3 128.2 373.5 128.5 374.8 128.9 375.9 129.0 377.1 128.8 378.3 128.2 379.4 127.6 380.6 127.2 381.7 127.1 382.9 127.4 384.1 128.0 385.2 128.5 386.4 128.7 387.5 128.5 388.7 128.0 390.0 127.6 391.4 127.4 393.0 128.5 393.8 129.9 394.6 131.2 395.4 132.2 396.2 133.0 397.5 133.6 398.4 134.0 399.4 134.5 400.6 135.2 401.8 136.2 402.9 136.8 403.9 137.3 405.0 137.6 406.1 137.1 407.2 136.4 408.3 135.7 409.4 135.3 410.5 135.0 411.5 135.1 412.6 135.3 413.6 135.4 414.7 135.3 415.7 134.8 416.8 134.1 417.8 133.2 418.9 132.4 419.9 131.8 420.9 131.6 421.9 131.5 422.9 131.5 423.9 131.4 424.9 131.1 425.9 130.7 426.9 130.2 427.9 129.8 428.9 129.6 429.9 129.6 430.9 129.8 431.9 130.1 432.9 130.2 433.9 130.0 434.9 129.6 436.1 129.1 437.3 128.8 438.5 128.7 439.7 129.1 440.9 129.9 442.1 130.7 443.3 131.1 444.4 131.1 445.5 130.9 446.6 130.5 447.7 130.3 448.7 130.3 449.8 130.6 450.9 131.0 451.9 131.4 453.0 131.7 454.0 131.7 455.1 131.6 456.1 131.5 457.1 131.6 458.1 132.0 459.1 132.5 460.1 133.1 461.1 133.5 462.1 133.8 463.1 133.8 464.2 133.5 465.4 133.2 466.5 133.2 467.7 133.5 468.8 134.3 470.0 135.1 471.1 135.6 472.1 135.8 473.2 135.7 474.2 135.3 475.3 134.8 476.3 134.5 477.4 134.4 478.4 134.5 479.5 134.7 480.5 134.8 481.6 134.7 482.6 134.5 483.7 134.1 484.7 133.8 485.8 133.7 486.8 133.8 487.9 134.1 488.9 134.4 490.0 134.6 491.1 134.5 492.1 134.1 493.2 133.7 494.2 133.3 495.3 133.2 496.3 133.5 497.4 134.1 498.5 134.8 499.5 135.3 500.6 135.6 501.6 135.5 502.7 135.2 503.8 134.8 504.8 134.5 505.9 134.6 507.0 134.8 508.0 135.1 509.1 135.3 510.1 135.4 511.2 135.2 512.3 134.9 513.4 134.6 514.5 134.6 515.6 134.8 516.7 135.2 517.8 135.5 518.9 135.6 520.0 135.3 521.0 134.9 522.0 134.4 523.0 134.0 524.0 134.0 525.0 134.3 526.0 134.8 527.0 135.4 528.0 135.8 529.0 136.1 530.1 135.9 531.1 135.6 532.1 135.2 533.2 134.9 534.2 134.9 535.2 135.0 536.3 135.3 537.3 135.5 538.4 135.6 539.6 135.4 540.7 135.0 541.9 134.7 543.0 134.6" fill="none" stroke="#800080" stroke-width="1.3" stroke-dasharray="4 1.2 1.2 1.2" stroke-linejoin="round"/>
<path d="M325.5 26.0 326.4 26.5 327.8 27.1 329.0 26.8 329.5 25.8 330.0 24.7 330.3 23.7 330.6 22.8 331.0 21.8 331.3 20.7 331.6 19.6 331.9 19.2 332.2 19.0 332.4 20.2 332.6 21.5 332.7 22.7 332.7 23.9 332.8 25.0 332.8 26.1 332.8 27.1 332.9 28.2 332.9 29.2 332.9 30.3 332.9 31.3 333.0 32.4 333.0 33.4 333.1 34.5 333.1 35.5 333.1 36.5 333.2 37.6 333.2 38.6 333.3 39.7 333.3 40.7 333.4 41.7 333.4 42.8 333.4 43.8 333.5 44.9 333.5 45.9 333.6 47.0 333.6 48.0 333.6 49.0 333.7 50.0 333.7 51.0 333.8 52.1 333.8 53.1 333.9 54.1 333.9 55.1 334.0 56.1 334.0 57.1 334.1 58.1 334.1 59.2 334.1 60.2 334.2 61.2 334.2 62.2 334.3 63.2 334.3 64.2 334.4 65.2 334.4 66.3 334.5 67.3 334.5 68.3 334.6 69.3 334.6 70.3 334.6 71.3 334.7 72.3 334.7 73.4 334.8 74.4 334.8 75.4 334.9 76.4 334.9 77.4 335.0 78.4 335.0 79.4 335.0 80.4 335.1 81.5 335.1 82.5 335.2 83.5 335.2 84.5 335.3 85.5 335.3 86.5 335.4 87.6 335.4 88.6 335.5 89.6 335.5 90.6 335.6 91.6 335.6 92.7 335.6 93.7 335.7 94.7 335.7 95.7 335.8 96.7 335.8 97.8 335.9 98.8 335.9 99.8 336.0 100.8 336.0 101.8 336.1 102.8 336.1 103.9 336.1 104.9 336.2 105.9 336.2 106.9 336.3 107.9 336.3 109.0 336.4 110.0 336.4 111.0 336.5 112.0 336.5 113.0 336.6 114.1 336.6 115.1 336.7 116.1 336.7 117.1 336.7 118.1 336.8 119.2 336.8 120.2 336.9 121.2 336.9 122.2 337.0 123.2 337.0 124.3 337.1 125.3 337.1 126.3 337.2 127.3 337.2 128.3 337.3 129.3 337.3 130.4 337.3 131.4 337.4 132.4 337.4 133.4 337.5 134.4 337.5 135.5 337.6 136.5 337.6 137.5 337.7 138.5 337.7 139.5 337.8 140.5 337.8 141.6 337.9 142.6 337.9 143.6 337.9 144.6 338.0 145.6 338.0 146.6 338.1 147.7 338.1 148.7 338.2 149.7 338.2 150.7 338.3 151.7 338.3 152.7 338.4 153.8 338.4 154.8 338.4 155.8 338.5 156.8 338.5 157.8 338.6 158.8 338.6 159.9 338.7 160.9 338.7 161.9 338.8 162.9 338.8 163.9 338.9 164.9 338.9 166.0 339.0 167.0 339.0 168.0 339.1 166.9 339.1 165.9 339.2 164.8 339.3 163.8 339.3 162.7 339.4 161.7 339.5 160.6 339.5 159.6 339.6 158.5 339.6 157.4 339.7 156.4 339.8 155.3 339.8 154.3 339.9 153.2 340.0 152.2 340.0 151.1 340.1 150.1 340.2 149.1 340.2 148.1 340.3 147.1 340.3 146.1 340.4 145.1 340.5 144.0 340.5 143.0 340.6 142.0 340.7 141.0 340.7 140.0 340.8 139.0 340.8 138.0 340.9 137.0 341.0 136.0 341.0 135.0 341.1 133.9 341.2 132.9 341.2 131.9 341.3 130.9 341.3 129.9 341.4 128.9 341.5 127.9 341.5 126.8 341.6 125.8 341.7 124.7 341.7 123.7 341.8 122.6 341.9 121.6 341.9 120.5 342.0 119.4 342.0 118.4 342.1 117.3 342.2 116.3 342.2 115.2 342.3 114.2 342.4 113.1 342.4 112.1 342.5 111.0 343.2 112.2 343.7 113.1 344.2 114.1 344.6 115.0 344.9 116.0 345.3 117.0 345.6 118.0 345.8 119.0 346.1 120.0 346.3 121.1 346.6 122.1 346.8 123.1 347.1 124.1 347.3 125.1 347.5 126.2 347.8 127.2 348.0 128.2 348.3 129.3 348.5 130.4 348.8 131.5 349.0 132.6 349.4 131.6 349.8 130.6 350.2 129.6 350.6 128.7 351.0 127.7 351.4 126.7 351.8 125.7 352.2 124.8 352.6 123.8 353.0 122.9 353.4 121.9 353.8 120.9 354.2 119.9 354.6 119.0 355.0 118.0 355.4 117.0 355.8 116.0 356.5 116.8 357.2 117.6 358.2 118.6 359.3 119.6 360.3 120.2 361.4 120.9 362.5 120.5 363.6 119.9 364.3 119.1 365.0 118.3 365.8 117.4 366.8 116.7 367.8 116.2 369.3 117.4 370.0 118.4 370.7 119.3 372.1 120.2 373.9 118.8 374.8 117.8 375.7 116.9 377.5 116.4 378.9 117.6 379.5 118.5 380.2 119.4 380.9 120.0 381.7 120.6 382.7 120.8 383.7 121.1 384.8 121.6 386.0 122.4 387.1 123.2 388.2 124.1 389.3 124.0 390.5 123.5 391.2 122.7 392.0 121.8 392.7 120.8 393.7 119.9 394.6 119.2 395.7 120.4 396.1 121.6 396.4 122.8 397.5 124.4 399.2 123.9 400.2 122.9 401.2 121.8 402.3 120.7 403.5 119.7 404.8 119.4 406.2 119.4 407.2 119.5 408.2 119.6 409.2 119.4 410.3 118.9 411.3 118.3 412.4 117.8 413.5 117.5 414.6 117.6 415.7 118.1 416.9 118.6 418.1 118.9 419.2 118.9 420.5 118.5 421.7 118.0 422.9 117.7 423.9 117.8 424.9 118.2 425.9 118.7 427.0 119.3 428.0 119.7 429.1 120.0 430.1 120.0 431.2 120.0 432.4 120.0 433.7 120.3 434.9 120.8 436.3 120.9 437.7 120.5 438.9 119.7 440.0 118.7 441.1 118.0 442.3 117.7 443.3 118.4 444.3 119.2 445.3 120.4 446.4 121.4 447.5 121.8 448.7 121.9 449.8 121.7 450.8 121.4 451.9 121.2 452.9 121.4 453.9 121.7 454.9 122.2 456.0 122.5 457.1 122.7 458.1 122.6 459.2 122.3 460.3 122.1 461.4 122.1 462.5 122.3 463.6 122.6 464.6 122.9 465.7 122.8 466.8 122.5 467.9 122.0 468.9 121.4 470.0 121.0 471.2 121.1 472.5 121.6 473.7 122.3 475.0 122.9 476.3 123.1 477.5 122.8 478.8 122.3 480.0 122.0 481.2 121.9 482.4 122.2 483.6 122.7 484.7 123.0 485.9 123.1 486.9 122.9 487.9 122.7 488.9 122.5 489.9 122.6 491.0 122.8 492.0 123.1 493.0 123.3 494.0 123.4 495.0 123.2 496.0 122.7 497.0 122.2 498.0 121.7 499.0 121.5 500.0 121.5 501.1 122.0 502.2 122.6 503.3 123.0 504.4 123.1 505.5 122.9 506.6 122.4 507.6 122.0 508.7 121.8 509.8 121.9 510.9 122.3 512.0 122.7 513.1 123.1 514.3 123.3 515.4 123.2 516.6 123.1 517.7 123.0 518.9 123.3 520.0 123.7 521.0 124.1 522.1 124.3 523.1 124.2 524.1 123.9 525.2 123.3 526.2 122.8 527.3 122.6 528.3 122.6 529.4 122.9 530.5 123.4 531.5 123.8 532.6 123.9 533.7 123.6 534.8 123.1 535.8 122.6 536.9 122.1 537.9 122.0 539.0 122.1 540.0 122.4 541.0 122.7 542.0 122.8 543.0 122.8" fill="none" stroke="#800000" stroke-width="1.3" stroke-linejoin="round"/>
</g>
<line x1="327.2" y1="26.7" x2="480.2" y2="26.7" stroke="#333" stroke-width="1.1" stroke-dasharray="1.1 2.2"/>
<text x="335.5" y="23.6" font-size="9.9" fill="#111">Impact kinetic energy = 0.14 mJ</text>
<rect x="325.2" y="12.5" width="217.2" height="174.3" fill="none" stroke="#2a2a2a" stroke-width="1.3"/>
<line x1="325.2" y1="186.8" x2="329.2" y2="186.8" stroke="#2a2a2a" stroke-width="1.1"/>
<text x="321.7" y="190.2" font-size="9.7" font-weight="bold" text-anchor="end" fill="#111">0.00</text>
<line x1="325.2" y1="169.37" x2="327.4" y2="169.37" stroke="#2a2a2a" stroke-width="1.1"/>
<line x1="325.2" y1="151.94" x2="329.2" y2="151.94" stroke="#2a2a2a" stroke-width="1.1"/>
<text x="321.7" y="155.34" font-size="9.7" font-weight="bold" text-anchor="end" fill="#111">0.03</text>
<line x1="325.2" y1="134.51" x2="327.4" y2="134.51" stroke="#2a2a2a" stroke-width="1.1"/>
<line x1="325.2" y1="117.08" x2="329.2" y2="117.08" stroke="#2a2a2a" stroke-width="1.1"/>
<text x="321.7" y="120.48" font-size="9.7" font-weight="bold" text-anchor="end" fill="#111">0.06</text>
<line x1="325.2" y1="99.65" x2="327.4" y2="99.65" stroke="#2a2a2a" stroke-width="1.1"/>
<line x1="325.2" y1="82.22" x2="329.2" y2="82.22" stroke="#2a2a2a" stroke-width="1.1"/>
<text x="321.7" y="85.62" font-size="9.7" font-weight="bold" text-anchor="end" fill="#111">0.09</text>
<line x1="325.2" y1="64.79" x2="327.4" y2="64.79" stroke="#2a2a2a" stroke-width="1.1"/>
<line x1="325.2" y1="47.36" x2="329.2" y2="47.36" stroke="#2a2a2a" stroke-width="1.1"/>
<text x="321.7" y="50.76" font-size="9.7" font-weight="bold" text-anchor="end" fill="#111">0.12</text>
<line x1="325.2" y1="29.93" x2="327.4" y2="29.93" stroke="#2a2a2a" stroke-width="1.1"/>
<line x1="325.2" y1="12.5" x2="329.2" y2="12.5" stroke="#2a2a2a" stroke-width="1.1"/>
<text x="321.7" y="15.9" font-size="9.7" font-weight="bold" text-anchor="end" fill="#111">0.15</text>
<line x1="325.2" y1="186.8" x2="325.2" y2="182.8" stroke="#2a2a2a" stroke-width="1.1"/>
<text x="325.2" y="198.8" font-size="9.5" font-weight="bold" text-anchor="middle" fill="#111">0</text>
<line x1="346.92" y1="186.8" x2="346.92" y2="184.6" stroke="#2a2a2a" stroke-width="1.1"/>
<line x1="368.64" y1="186.8" x2="368.64" y2="182.8" stroke="#2a2a2a" stroke-width="1.1"/>
<text x="368.64" y="198.8" font-size="9.5" font-weight="bold" text-anchor="middle" fill="#111">3</text>
<line x1="390.36" y1="186.8" x2="390.36" y2="184.6" stroke="#2a2a2a" stroke-width="1.1"/>
<line x1="412.08" y1="186.8" x2="412.08" y2="182.8" stroke="#2a2a2a" stroke-width="1.1"/>
<text x="412.08" y="198.8" font-size="9.5" font-weight="bold" text-anchor="middle" fill="#111">6</text>
<line x1="433.8" y1="186.8" x2="433.8" y2="184.6" stroke="#2a2a2a" stroke-width="1.1"/>
<line x1="455.52" y1="186.8" x2="455.52" y2="182.8" stroke="#2a2a2a" stroke-width="1.1"/>
<text x="455.52" y="198.8" font-size="9.5" font-weight="bold" text-anchor="middle" fill="#111">9</text>
<line x1="477.24" y1="186.8" x2="477.24" y2="184.6" stroke="#2a2a2a" stroke-width="1.1"/>
<line x1="498.96" y1="186.8" x2="498.96" y2="182.8" stroke="#2a2a2a" stroke-width="1.1"/>
<text x="498.96" y="198.8" font-size="9.5" font-weight="bold" text-anchor="middle" fill="#111">12</text>
<line x1="520.68" y1="186.8" x2="520.68" y2="184.6" stroke="#2a2a2a" stroke-width="1.1"/>
<line x1="542.4" y1="186.8" x2="542.4" y2="182.8" stroke="#2a2a2a" stroke-width="1.1"/>
<text x="542.4" y="198.8" font-size="9.5" font-weight="bold" text-anchor="middle" fill="#111">15</text>
<text x="433.8" y="212.2" font-size="13" font-weight="bold" text-anchor="middle" fill="#111">Time (ms)</text>
<text x="415.2" y="229.4" font-size="12.5" text-anchor="middle" fill="#111" style="stroke-width:0.45px">(b)</text>
<text transform="translate(297.3,99.65) rotate(-90)" font-size="11.65" font-weight="bold" text-anchor="middle" fill="#111">Kinetic energy (mJ)</text>
<line x1="484" y1="16.6" x2="505" y2="16.6" stroke="#FF8000" stroke-width="1.4"/>
<text x="507.4" y="20.1" font-size="8.1" font-weight="bold" fill="#111">Substrate</text>
<line x1="484" y1="29.7" x2="505" y2="29.7" stroke="#FF0000" stroke-width="1.4" stroke-dasharray="4 1.2 1.2 1.2"/>
<text x="507.6" y="33.2" font-size="8.1" font-weight="bold" fill="#111">MoS<tspan font-size="8.3" dy="3.3">2</tspan><tspan dy="-3.3">0.1</tspan></text>
<line x1="484" y1="47.1" x2="505" y2="47.1" stroke="#2020FF" stroke-width="1.4"/>
<text x="507.6" y="50.6" font-size="8.1" font-weight="bold" fill="#111">MoS<tspan font-size="8.3" dy="3.3">2</tspan><tspan dy="-3.3">0.2</tspan></text>
<line x1="484" y1="63.6" x2="505" y2="63.6" stroke="#008000" stroke-width="1.4" stroke-dasharray="4 1.2 1.2 1.2"/>
<text x="507.6" y="67.1" font-size="8.1" font-weight="bold" fill="#111">MoS<tspan font-size="8.3" dy="3.3">2</tspan><tspan dy="-3.3">0.3</tspan></text>
<line x1="484" y1="80.5" x2="505" y2="80.5" stroke="#FF00FF" stroke-width="1.4"/>
<text x="507.6" y="84" font-size="8.1" font-weight="bold" fill="#111">MoS<tspan font-size="8.3" dy="3.3">2</tspan><tspan dy="-3.3">0.4</tspan></text>
<line x1="484" y1="97.5" x2="505" y2="97.5" stroke="#000080" stroke-width="1.4" stroke-dasharray="4 1.2 1.2 1.2"/>
<text x="507.6" y="101" font-size="8.1" font-weight="bold" fill="#111">MoS<tspan font-size="8.3" dy="3.3">2</tspan><tspan dy="-3.3">0.5</tspan></text>
<line x1="484" y1="114.4" x2="505" y2="114.4" stroke="#8000FF" stroke-width="1.4"/>
<text x="507.6" y="117.9" font-size="8.1" font-weight="bold" fill="#111">MoS<tspan font-size="8.3" dy="3.3">2</tspan><tspan dy="-3.3">0.6</tspan></text>
<line x1="484" y1="160.9" x2="505" y2="160.9" stroke="#800080" stroke-width="1.4" stroke-dasharray="4 1.2 1.2 1.2"/>
<text x="507.6" y="164.4" font-size="8.1" font-weight="bold" fill="#111">MoS<tspan font-size="8.3" dy="3.3">2</tspan><tspan dy="-3.3">0.7</tspan></text>
<line x1="484" y1="177.4" x2="505" y2="177.4" stroke="#800000" stroke-width="1.4"/>
<text x="507.6" y="180.9" font-size="8.1" font-weight="bold" fill="#111">MoS<tspan font-size="8.3" dy="3.3">2</tspan><tspan dy="-3.3">0.8</tspan></text>
<rect x="183.3" y="313.93" width="9.6" height="94.27" fill="#FF0000" stroke="#444" stroke-width="0.4"/>
<rect x="192.9" y="307.89" width="9.6" height="100.31" fill="#00FFFF" stroke="#444" stroke-width="0.4"/>
<rect x="206.66" y="280.09" width="9.6" height="128.11" fill="#FF0000" stroke="#444" stroke-width="0.4"/>
<rect x="216.26" y="304.26" width="9.6" height="103.94" fill="#00FFFF" stroke="#444" stroke-width="0.4"/>
<rect x="230.02" y="286.13" width="9.6" height="122.07" fill="#FF0000" stroke="#444" stroke-width="0.4"/>
<rect x="239.62" y="300.64" width="9.6" height="107.56" fill="#00FFFF" stroke="#444" stroke-width="0.4"/>
<rect x="253.38" y="287.34" width="9.6" height="120.86" fill="#FF0000" stroke="#444" stroke-width="0.4"/>
<rect x="262.98" y="280.09" width="9.6" height="128.11" fill="#00FFFF" stroke="#444" stroke-width="0.4"/>
<rect x="276.74" y="284.93" width="9.6" height="123.27" fill="#FF0000" stroke="#444" stroke-width="0.4"/>
<rect x="286.34" y="286.13" width="9.6" height="122.07" fill="#00FFFF" stroke="#444" stroke-width="0.4"/>
<rect x="300.1" y="293.39" width="9.6" height="114.81" fill="#FF0000" stroke="#444" stroke-width="0.4"/>
<rect x="309.7" y="275.26" width="9.6" height="132.94" fill="#00FFFF" stroke="#444" stroke-width="0.4"/>
<rect x="323.46" y="282.51" width="9.6" height="125.69" fill="#FF0000" stroke="#444" stroke-width="0.4"/>
<rect x="333.06" y="293.39" width="9.6" height="114.81" fill="#00FFFF" stroke="#444" stroke-width="0.4"/>
<rect x="346.82" y="288.55" width="9.6" height="119.65" fill="#FF0000" stroke="#444" stroke-width="0.4"/>
<rect x="356.42" y="298.22" width="9.6" height="109.98" fill="#00FFFF" stroke="#444" stroke-width="0.4"/>
<rect x="370.18" y="300.64" width="9.6" height="107.56" fill="#FF0000" stroke="#444" stroke-width="0.4"/>
<rect x="379.78" y="305.47" width="9.6" height="102.73" fill="#00FFFF" stroke="#444" stroke-width="0.4"/>
<rect x="181.3" y="239" width="210" height="169.2" fill="none" stroke="#2a2a2a" stroke-width="1.3"/>
<line x1="181.3" y1="408.2" x2="184.6" y2="408.2" stroke="#2a2a2a" stroke-width="1.1"/>
<text x="177.6" y="411.5" font-size="9.5" font-weight="bold" text-anchor="end" fill="#111">0.00</text>
<line x1="181.3" y1="396.11" x2="183.1" y2="396.11" stroke="#2a2a2a" stroke-width="1.1"/>
<line x1="181.3" y1="384.03" x2="184.6" y2="384.03" stroke="#2a2a2a" stroke-width="1.1"/>
<text x="177.6" y="387.33" font-size="9.5" font-weight="bold" text-anchor="end" fill="#111">0.02</text>
<line x1="181.3" y1="371.94" x2="183.1" y2="371.94" stroke="#2a2a2a" stroke-width="1.1"/>
<line x1="181.3" y1="359.86" x2="184.6" y2="359.86" stroke="#2a2a2a" stroke-width="1.1"/>
<text x="177.6" y="363.16" font-size="9.5" font-weight="bold" text-anchor="end" fill="#111">0.04</text>
<line x1="181.3" y1="347.77" x2="183.1" y2="347.77" stroke="#2a2a2a" stroke-width="1.1"/>
<line x1="181.3" y1="335.69" x2="184.6" y2="335.69" stroke="#2a2a2a" stroke-width="1.1"/>
<text x="177.6" y="338.99" font-size="9.5" font-weight="bold" text-anchor="end" fill="#111">0.06</text>
<line x1="181.3" y1="323.6" x2="183.1" y2="323.6" stroke="#2a2a2a" stroke-width="1.1"/>
<line x1="181.3" y1="311.51" x2="184.6" y2="311.51" stroke="#2a2a2a" stroke-width="1.1"/>
<text x="177.6" y="314.81" font-size="9.5" font-weight="bold" text-anchor="end" fill="#111">0.08</text>
<line x1="181.3" y1="299.43" x2="183.1" y2="299.43" stroke="#2a2a2a" stroke-width="1.1"/>
<line x1="181.3" y1="287.34" x2="184.6" y2="287.34" stroke="#2a2a2a" stroke-width="1.1"/>
<text x="177.6" y="290.64" font-size="9.5" font-weight="bold" text-anchor="end" fill="#111">0.10</text>
<line x1="181.3" y1="275.26" x2="183.1" y2="275.26" stroke="#2a2a2a" stroke-width="1.1"/>
<line x1="181.3" y1="263.17" x2="184.6" y2="263.17" stroke="#2a2a2a" stroke-width="1.1"/>
<text x="177.6" y="266.47" font-size="9.5" font-weight="bold" text-anchor="end" fill="#111">0.12</text>
<line x1="181.3" y1="251.09" x2="183.1" y2="251.09" stroke="#2a2a2a" stroke-width="1.1"/>
<line x1="181.3" y1="239" x2="184.6" y2="239" stroke="#2a2a2a" stroke-width="1.1"/>
<text x="177.6" y="242.3" font-size="9.5" font-weight="bold" text-anchor="end" fill="#111">0.14</text>
<text x="191.1" y="250.1" font-size="9.6" fill="#111">Impact kinetic energy = 0.14 mJ</text>
<rect x="318.8" y="245.3" width="19.2" height="9.3" fill="#FF0000" stroke="#333" stroke-width="0.6"/>
<rect x="318.8" y="258.6" width="19.2" height="9.8" fill="#00FFFF" stroke="#333" stroke-width="0.6"/>
<text x="340.7" y="253.6" font-size="9.5" font-weight="bold" fill="#111">Cycle = 10<tspan font-size="6" dy="-4">2</tspan></text>
<text x="340.7" y="266.8" font-size="9.5" font-weight="bold" fill="#111">Cycle = 10<tspan font-size="6" dy="-4">4</tspan></text>
<text transform="translate(155.7,323.5) rotate(-90)" font-size="11.3" font-weight="bold" text-anchor="middle" fill="#111"><tspan font-weight="normal" style="stroke:none">&#916;</tspan>Kinetic energy (mJ)</text>
<text transform="translate(211.2,441.7) rotate(45)" font-size="10" font-weight="bold" text-anchor="end" fill="#111">Substrate</text>
<text transform="translate(233.96,440.9) rotate(45)" font-size="9.6" font-weight="bold" text-anchor="end" fill="#111">MoS<tspan dy="2.9">2</tspan><tspan dy="-2.9">0.1</tspan></text>
<text transform="translate(257.32,440.9) rotate(45)" font-size="9.6" font-weight="bold" text-anchor="end" fill="#111">MoS<tspan dy="2.9">2</tspan><tspan dy="-2.9">0.2</tspan></text>
<text transform="translate(280.68,440.9) rotate(45)" font-size="9.6" font-weight="bold" text-anchor="end" fill="#111">MoS<tspan dy="2.9">2</tspan><tspan dy="-2.9">0.3</tspan></text>
<text transform="translate(304.04,440.9) rotate(45)" font-size="9.6" font-weight="bold" text-anchor="end" fill="#111">MoS<tspan dy="2.9">2</tspan><tspan dy="-2.9">0.4</tspan></text>
<text transform="translate(327.4,440.9) rotate(45)" font-size="9.6" font-weight="bold" text-anchor="end" fill="#111">MoS<tspan dy="2.9">2</tspan><tspan dy="-2.9">0.5</tspan></text>
<text transform="translate(350.76,440.9) rotate(45)" font-size="9.6" font-weight="bold" text-anchor="end" fill="#111">MoS<tspan dy="2.9">2</tspan><tspan dy="-2.9">0.6</tspan></text>
<text transform="translate(374.12,440.9) rotate(45)" font-size="9.6" font-weight="bold" text-anchor="end" fill="#111">MoS<tspan dy="2.9">2</tspan><tspan dy="-2.9">0.7</tspan></text>
<text transform="translate(397.48,440.9) rotate(45)" font-size="9.6" font-weight="bold" text-anchor="end" fill="#111">MoS<tspan dy="2.9">2</tspan><tspan dy="-2.9">0.8</tspan></text>
<text x="275" y="460.5" font-size="12" text-anchor="middle" fill="#111" style="stroke-width:0.45px">(c)</text>
</svg></body></html>
